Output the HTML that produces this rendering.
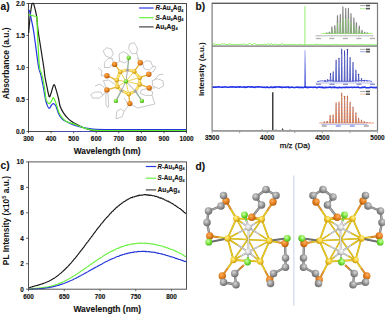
<!DOCTYPE html>
<html><head><meta charset="utf-8"><style>
html,body{margin:0;padding:0;background:#fff;width:385px;height:314px;overflow:hidden}
svg{display:block}
text{font-family:"Liberation Sans", sans-serif}
</style></head><body>
<svg width="385" height="314" viewBox="0 0 385 314">
<defs>
<radialGradient id="gAu" cx="0.4" cy="0.35" r="0.7"><stop offset="0" stop-color="#fff4a0"/><stop offset="0.5" stop-color="#f0c030"/><stop offset="1" stop-color="#b08010"/></radialGradient>
<radialGradient id="gAg" cx="0.4" cy="0.35" r="0.7"><stop offset="0" stop-color="#ffffff"/><stop offset="1" stop-color="#909090"/></radialGradient>
<radialGradient id="gP" cx="0.4" cy="0.35" r="0.7"><stop offset="0" stop-color="#ffb050"/><stop offset="0.6" stop-color="#e07818"/><stop offset="1" stop-color="#a05010"/></radialGradient>
<radialGradient id="gCl" cx="0.4" cy="0.35" r="0.7"><stop offset="0" stop-color="#c8ffa0"/><stop offset="0.6" stop-color="#60d020"/><stop offset="1" stop-color="#40a010"/></radialGradient>
<radialGradient id="dAu" cx="0.4" cy="0.35" r="0.7"><stop offset="0" stop-color="#fff6a0"/><stop offset="0.55" stop-color="#f2c828"/><stop offset="1" stop-color="#c09010"/></radialGradient>
<radialGradient id="dAg" cx="0.4" cy="0.35" r="0.7"><stop offset="0" stop-color="#ffffff"/><stop offset="0.6" stop-color="#d0d0d0"/><stop offset="1" stop-color="#909090"/></radialGradient>
<radialGradient id="dP" cx="0.4" cy="0.35" r="0.7"><stop offset="0" stop-color="#ffb060"/><stop offset="0.6" stop-color="#e07a18"/><stop offset="1" stop-color="#a85810"/></radialGradient>
<radialGradient id="dCl" cx="0.4" cy="0.35" r="0.7"><stop offset="0" stop-color="#d0ffb0"/><stop offset="0.6" stop-color="#70e030"/><stop offset="1" stop-color="#40a818"/></radialGradient>
<radialGradient id="dC" cx="0.4" cy="0.35" r="0.7"><stop offset="0" stop-color="#d8d8d8"/><stop offset="0.6" stop-color="#909090"/><stop offset="1" stop-color="#606060"/></radialGradient>
</defs>
<rect width="385" height="314" fill="#fff"/>
<text x="0.6" y="10.0" font-size="10.2" font-weight="bold" text-anchor="start" fill="#111" stroke="#111" stroke-width="0.12" >a)</text>
<polyline points="103.1,50.9 106.9,47.7 111.4,49 113.3,54.1 110.7,57.9 105.6,56 103.1,50.9" fill="none" stroke="#9c9c9c" stroke-width="0.55"/>
<polyline points="104.4,62.4 108.2,58.6 112.6,58.6 113.3,63 109.5,67.5 104.4,67.5 104.4,62.4" fill="none" stroke="#9c9c9c" stroke-width="0.55"/>
<polyline points="113.3,63 114.3,64.7" fill="none" stroke="#9c9c9c" stroke-width="0.55"/>
<polyline points="119,54.1 123.5,51.6 128,54.1 128.6,59.8 124.8,63 119.7,61.1 119,54.1" fill="none" stroke="#9c9c9c" stroke-width="0.55"/>
<polyline points="119.7,61.1 114.3,64.7" fill="none" stroke="#9c9c9c" stroke-width="0.55"/>
<polyline points="98,67.5 101.8,70.7 101.2,75.8 106.3,75.8" fill="none" stroke="#9c9c9c" stroke-width="0.55"/>
<polyline points="129.4,44 134,42.7 137.4,48 136.7,53.4 132,54 128.7,48.7 129.4,44" fill="none" stroke="#9c9c9c" stroke-width="0.55"/>
<polyline points="136.7,53.4 140,62.7" fill="none" stroke="#9c9c9c" stroke-width="0.55"/>
<polyline points="142.7,63.4 146.1,60.7 150.8,61.4 152.8,66.8 149.4,70.1 144.1,68.8 142.7,63.4" fill="none" stroke="#9c9c9c" stroke-width="0.55"/>
<polyline points="152.8,66.8 155.4,66" fill="none" stroke="#9c9c9c" stroke-width="0.55"/>
<polyline points="154.8,79.5 158.8,74.8 163.5,74.1" fill="none" stroke="#9c9c9c" stroke-width="0.55"/>
<polyline points="90.7,94.7 94.7,92 100.7,92 102.7,95.4 99.4,98.1 92.7,98.1 90.7,94.7" fill="none" stroke="#9c9c9c" stroke-width="0.55"/>
<polyline points="102.7,95.4 106.9,89.9" fill="none" stroke="#9c9c9c" stroke-width="0.55"/>
<polyline points="106,92.7 108.1,94.1 108.7,106.8 107.4,107.4 106,104.8 105.8,94.7 106,92.7" fill="none" stroke="#9c9c9c" stroke-width="0.55"/>
<polyline points="116.1,118.8 116.8,111.4 120.8,108.8 124.1,111.4 122.1,116.8 116.1,118.8" fill="none" stroke="#9c9c9c" stroke-width="0.55"/>
<polyline points="124.1,111.4 129.8,103.6" fill="none" stroke="#9c9c9c" stroke-width="0.55"/>
<polyline points="106.9,89.9 103.4,80.7 108.5,80 115.4,84.7" fill="none" stroke="#9c9c9c" stroke-width="0.55"/>
<polyline points="152.1,80.7 157.4,78.7 162.8,80.7 163.5,86 158.8,88.7 152.8,86 152.1,80.7" fill="none" stroke="#9c9c9c" stroke-width="0.55"/>
<polyline points="149.2,87.9 154.8,88" fill="none" stroke="#9c9c9c" stroke-width="0.55"/>
<polyline points="141.4,90 146.7,88.7 152.8,92 152.1,95.4 145.4,95.4 140,93.4 141.4,90" fill="none" stroke="#9c9c9c" stroke-width="0.55"/>
<polyline points="152.1,95.4 154.8,104 137.4,108.1 132,104.8" fill="none" stroke="#9c9c9c" stroke-width="0.55"/>
<polyline points="124,98 128,104" fill="none" stroke="#9c9c9c" stroke-width="0.55"/>
<polyline points="95,86 100,84 106.9,89.9" fill="none" stroke="#9c9c9c" stroke-width="0.55"/>
<polyline points="148.5,74.2 154,71 156,66.5" fill="none" stroke="#9c9c9c" stroke-width="0.55"/>
<polyline points="140.3,63 137,58" fill="none" stroke="#9c9c9c" stroke-width="0.55"/>
<line x1="125.9" y1="81.4" x2="120.3" y2="71.7" stroke="#eccc40" stroke-width="0.9"/>
<line x1="125.9" y1="81.4" x2="134.2" y2="71.4" stroke="#eccc40" stroke-width="0.9"/>
<line x1="125.9" y1="81.4" x2="139.7" y2="77.7" stroke="#eccc40" stroke-width="0.9"/>
<line x1="125.9" y1="81.4" x2="139.7" y2="84.4" stroke="#eccc40" stroke-width="0.9"/>
<line x1="125.9" y1="81.4" x2="128.8" y2="94.1" stroke="#eccc40" stroke-width="0.9"/>
<line x1="125.9" y1="81.4" x2="117.3" y2="86.8" stroke="#eccc40" stroke-width="0.9"/>
<line x1="125.9" y1="81.4" x2="116.7" y2="80.2" stroke="#eccc40" stroke-width="0.9"/>
<line x1="125.9" y1="81.4" x2="127.6" y2="69.9" stroke="#a0a0a8" stroke-width="0.9"/>
<line x1="125.9" y1="81.4" x2="121.5" y2="90.5" stroke="#a0a0a8" stroke-width="0.9"/>
<line x1="125.9" y1="81.4" x2="135.4" y2="91.1" stroke="#a0a0a8" stroke-width="0.9"/>
<polygon points="120.3,71.7 127.6,69.9 134.2,71.4 139.7,77.7 139.7,84.4 135.4,91.1 128.8,94.1 121.5,90.5 117.3,86.8 116.7,80.2" fill="none" stroke="#ecc840" stroke-width="2.8"/>
<polygon points="120.3,71.7 127.6,69.9 134.2,71.4 139.7,77.7 139.7,84.4 135.4,91.1 128.8,94.1 121.5,90.5 117.3,86.8 116.7,80.2" fill="none" stroke="#fff080" stroke-width="1.2"/>
<line x1="114.6" y1="64.4" x2="120.3" y2="71.7" stroke="#e8b030" stroke-width="1.3"/>
<line x1="140.3" y1="62.8" x2="134.2" y2="71.4" stroke="#e8b030" stroke-width="1.3"/>
<line x1="106.9" y1="75.7" x2="116.7" y2="80.2" stroke="#e8b030" stroke-width="1.3"/>
<line x1="148.8" y1="74.3" x2="139.7" y2="77.7" stroke="#e8b030" stroke-width="1.3"/>
<line x1="106.9" y1="89.9" x2="117.3" y2="86.8" stroke="#e8b030" stroke-width="1.3"/>
<line x1="149.2" y1="87.9" x2="139.7" y2="84.4" stroke="#e8b030" stroke-width="1.3"/>
<line x1="129.8" y1="103.6" x2="128.8" y2="94.1" stroke="#e8b030" stroke-width="1.3"/>
<line x1="128.7" y1="57.8" x2="127.6" y2="69.9" stroke="#8aa890" stroke-width="1.2"/>
<line x1="115.9" y1="100.9" x2="121.5" y2="90.5" stroke="#8aa890" stroke-width="1.2"/>
<line x1="141.9" y1="100.9" x2="135.4" y2="91.1" stroke="#8aa890" stroke-width="1.2"/>
<path d="M125.39999999999999,71.2 L127.6,67.9 L129.79999999999998,71.2 Z" fill="#9898a8" stroke="#c8c8d8" stroke-width="0.4"/>
<path d="M119.3,91.8 L121.5,88.5 L123.7,91.8 Z" fill="#9898a8" stroke="#c8c8d8" stroke-width="0.4"/>
<path d="M133.20000000000002,92.39999999999999 L135.4,89.1 L137.6,92.39999999999999 Z" fill="#9898a8" stroke="#c8c8d8" stroke-width="0.4"/>
<circle cx="120.3" cy="71.7" r="2.3" fill="url(#gAu)"/>
<circle cx="134.2" cy="71.4" r="2.3" fill="url(#gAu)"/>
<circle cx="139.7" cy="77.7" r="2.3" fill="url(#gAu)"/>
<circle cx="139.7" cy="84.4" r="2.3" fill="url(#gAu)"/>
<circle cx="128.8" cy="94.1" r="2.3" fill="url(#gAu)"/>
<circle cx="117.3" cy="86.8" r="2.3" fill="url(#gAu)"/>
<circle cx="116.7" cy="80.2" r="2.3" fill="url(#gAu)"/>
<circle cx="114.6" cy="64.4" r="2.7" fill="url(#gP)"/>
<circle cx="140.3" cy="62.8" r="2.7" fill="url(#gP)"/>
<circle cx="106.9" cy="75.7" r="2.7" fill="url(#gP)"/>
<circle cx="148.8" cy="74.3" r="2.7" fill="url(#gP)"/>
<circle cx="106.9" cy="89.9" r="2.7" fill="url(#gP)"/>
<circle cx="149.2" cy="87.9" r="2.7" fill="url(#gP)"/>
<circle cx="129.8" cy="103.6" r="2.7" fill="url(#gP)"/>
<circle cx="128.7" cy="57.8" r="2.2" fill="url(#gCl)"/>
<circle cx="115.9" cy="100.9" r="2.2" fill="url(#gCl)"/>
<circle cx="141.9" cy="100.9" r="2.2" fill="url(#gCl)"/>
<circle cx="125.9" cy="81.4" r="2.2" fill="url(#gCl)"/>
<rect x="28.5" y="3.5" width="158.0" height="128.0" fill="none" stroke="#4a4a4a" stroke-width="1"/>
<line x1="53" y1="131.5" x2="186" y2="131.5" stroke="#4050e8" stroke-width="0.8" opacity="0.75"/>
<path d="M28.60,33.00 C28.90,29.83 29.87,18.72 30.40,14.00 C30.93,9.28 31.40,6.47 31.80,4.70 C32.20,2.93 32.45,3.40 32.80,3.40 C33.15,3.40 33.28,2.65 33.90,4.70 C34.52,6.75 35.88,12.15 36.50,15.70 C37.12,19.25 37.28,23.12 37.60,26.00 C37.92,28.88 37.40,26.33 38.40,33.00 C39.40,39.67 42.52,58.75 43.60,66.00 C44.68,73.25 44.33,73.00 44.90,76.50 C45.47,80.00 46.30,83.68 47.00,87.00 C47.70,90.32 48.48,95.18 49.10,96.40 C49.72,97.62 49.92,96.22 50.70,94.30 C51.48,92.38 52.93,85.77 53.80,84.90 C54.67,84.03 55.10,86.75 55.90,89.10 C56.70,91.45 57.90,96.13 58.60,99.00 C59.30,101.87 59.32,104.03 60.10,106.30 C60.88,108.57 62.07,110.67 63.30,112.60 C64.53,114.53 66.10,116.40 67.50,117.90 C68.90,119.40 70.20,120.53 71.70,121.60 C73.20,122.67 74.62,123.32 76.50,124.30 C78.38,125.28 80.83,126.62 83.00,127.50 C85.17,128.38 87.33,129.08 89.50,129.60 C91.67,130.12 90.92,130.37 96.00,130.60 C101.08,130.83 105.00,130.93 120.00,131.00 C135.00,131.07 175.00,131.00 186.00,131.00" fill="none" stroke="#1a1a1a" stroke-width="1.2"/>
<path d="M28.60,10.00 C28.78,10.25 29.27,10.02 29.70,11.50 C30.13,12.98 30.50,15.32 31.20,18.90 C31.90,22.48 32.70,25.15 33.90,33.00 C35.10,40.85 37.27,59.10 38.40,66.00 C39.53,72.90 39.88,70.90 40.70,74.40 C41.52,77.90 42.52,82.90 43.30,87.00 C44.08,91.10 44.87,96.30 45.40,99.00 C45.93,101.70 45.88,101.63 46.50,103.20 C47.12,104.77 48.23,108.13 49.10,108.40 C49.97,108.67 50.92,105.58 51.70,104.80 C52.48,104.02 53.08,103.45 53.80,103.70 C54.52,103.95 55.20,104.63 56.00,106.30 C56.80,107.97 57.57,111.58 58.60,113.70 C59.63,115.82 60.72,117.60 62.20,119.00 C63.68,120.40 65.22,120.97 67.50,122.10 C69.78,123.23 73.32,124.90 75.90,125.80 C78.48,126.70 80.73,127.03 83.00,127.50 C85.27,127.97 87.33,128.30 89.50,128.60 C91.67,128.90 90.92,129.15 96.00,129.30 C101.08,129.45 105.00,129.47 120.00,129.50 C135.00,129.53 175.00,129.50 186.00,129.50" fill="none" stroke="#2436e0" stroke-width="1.2"/>
<path d="M28.60,14.70 C29.25,14.85 31.18,15.25 32.50,15.60 C33.82,15.95 35.75,16.43 36.50,16.80 C37.25,17.17 36.83,15.10 37.00,17.80 C37.17,20.50 37.10,24.97 37.50,33.00 C37.90,41.03 38.68,59.10 39.40,66.00 C40.12,72.90 40.97,70.90 41.80,74.40 C42.63,77.90 43.70,82.90 44.40,87.00 C45.10,91.10 45.48,96.48 46.00,99.00 C46.52,101.52 46.93,101.32 47.50,102.10 C48.07,102.88 48.70,103.95 49.40,103.70 C50.10,103.45 51.02,101.58 51.70,100.60 C52.38,99.62 52.78,97.37 53.50,97.80 C54.22,98.23 55.15,100.90 56.00,103.20 C56.85,105.50 57.73,109.42 58.60,111.60 C59.47,113.78 59.90,114.63 61.20,116.30 C62.50,117.97 63.95,120.20 66.40,121.60 C68.85,123.00 73.13,123.70 75.90,124.70 C78.67,125.70 80.73,126.82 83.00,127.60 C85.27,128.38 87.33,128.95 89.50,129.40 C91.67,129.85 90.92,130.12 96.00,130.30 C101.08,130.48 105.00,130.47 120.00,130.50 C135.00,130.53 175.00,130.50 186.00,130.50" fill="none" stroke="#5ef02a" stroke-width="1.2"/>
<line x1="26.5" y1="131.50" x2="28.5" y2="131.50" stroke="#333" stroke-width="0.8"/>
<text x="25.0" y="133.8" font-size="6.5" font-weight="bold" text-anchor="end" fill="#111" stroke="#111" stroke-width="0.12" >0.0</text>
<line x1="26.5" y1="99.50" x2="28.5" y2="99.50" stroke="#333" stroke-width="0.8"/>
<text x="25.0" y="101.8" font-size="6.5" font-weight="bold" text-anchor="end" fill="#111" stroke="#111" stroke-width="0.12" >0.5</text>
<line x1="26.5" y1="67.50" x2="28.5" y2="67.50" stroke="#333" stroke-width="0.8"/>
<text x="25.0" y="69.8" font-size="6.5" font-weight="bold" text-anchor="end" fill="#111" stroke="#111" stroke-width="0.12" >1.0</text>
<line x1="26.5" y1="35.50" x2="28.5" y2="35.50" stroke="#333" stroke-width="0.8"/>
<text x="25.0" y="37.8" font-size="6.5" font-weight="bold" text-anchor="end" fill="#111" stroke="#111" stroke-width="0.12" >1.5</text>
<line x1="26.5" y1="3.50" x2="28.5" y2="3.50" stroke="#333" stroke-width="0.8"/>
<text x="25.0" y="5.8" font-size="6.5" font-weight="bold" text-anchor="end" fill="#111" stroke="#111" stroke-width="0.12" >2.0</text>
<line x1="28.50" y1="131.5" x2="28.50" y2="133.3" stroke="#333" stroke-width="0.8"/>
<text x="28.5" y="140.6" font-size="6.4" font-weight="bold" text-anchor="middle" fill="#111" stroke="#111" stroke-width="0.12" >300</text>
<line x1="51.07" y1="131.5" x2="51.07" y2="133.3" stroke="#333" stroke-width="0.8"/>
<text x="51.07" y="140.6" font-size="6.4" font-weight="bold" text-anchor="middle" fill="#111" stroke="#111" stroke-width="0.12" >400</text>
<line x1="73.64" y1="131.5" x2="73.64" y2="133.3" stroke="#333" stroke-width="0.8"/>
<text x="73.64" y="140.6" font-size="6.4" font-weight="bold" text-anchor="middle" fill="#111" stroke="#111" stroke-width="0.12" >500</text>
<line x1="96.21" y1="131.5" x2="96.21" y2="133.3" stroke="#333" stroke-width="0.8"/>
<text x="96.21" y="140.6" font-size="6.4" font-weight="bold" text-anchor="middle" fill="#111" stroke="#111" stroke-width="0.12" >600</text>
<line x1="118.79" y1="131.5" x2="118.79" y2="133.3" stroke="#333" stroke-width="0.8"/>
<text x="118.79" y="140.6" font-size="6.4" font-weight="bold" text-anchor="middle" fill="#111" stroke="#111" stroke-width="0.12" >700</text>
<line x1="141.36" y1="131.5" x2="141.36" y2="133.3" stroke="#333" stroke-width="0.8"/>
<text x="141.36" y="140.6" font-size="6.4" font-weight="bold" text-anchor="middle" fill="#111" stroke="#111" stroke-width="0.12" >800</text>
<line x1="163.93" y1="131.5" x2="163.93" y2="133.3" stroke="#333" stroke-width="0.8"/>
<text x="163.93" y="140.6" font-size="6.4" font-weight="bold" text-anchor="middle" fill="#111" stroke="#111" stroke-width="0.12" >900</text>
<line x1="186.50" y1="131.5" x2="186.50" y2="133.3" stroke="#333" stroke-width="0.8"/>
<text x="186.5" y="140.6" font-size="6.4" font-weight="bold" text-anchor="middle" fill="#111" stroke="#111" stroke-width="0.12" >1000</text>
<text x="107.2" y="153.8" font-size="8.35" font-weight="bold" text-anchor="middle" fill="#111" stroke="#111" stroke-width="0.12" >Wavelength (nm)</text>
<text transform="translate(9.1,63.3) rotate(-90)" font-size="8.5" font-weight="bold" text-anchor="middle" fill="#111">Absorbance (a.u.)</text>
<line x1="139.1" y1="8.0" x2="153.6" y2="8.0" stroke="#2a3ae0" stroke-width="1.2"/>
<text x="155.5" y="10.2" font-size="6.9" font-weight="bold" fill="#111" stroke="#111" stroke-width="0.1" textLength="28" lengthAdjust="spacingAndGlyphs"><tspan font-style="italic">R</tspan>-Au<tspan font-size="4.14" dy="1.3">9</tspan><tspan dy="-1.3">Ag</tspan><tspan font-size="4.14" dy="1.3">4</tspan></text>
<line x1="139.1" y1="17.7" x2="153.6" y2="17.7" stroke="#6af040" stroke-width="1.2"/>
<text x="155.5" y="19.9" font-size="6.9" font-weight="bold" fill="#111" stroke="#111" stroke-width="0.1" textLength="28" lengthAdjust="spacingAndGlyphs"><tspan font-style="italic">S</tspan>-Au<tspan font-size="4.14" dy="1.3">9</tspan><tspan dy="-1.3">Ag</tspan><tspan font-size="4.14" dy="1.3">4</tspan></text>
<line x1="139.1" y1="26.9" x2="153.6" y2="26.9" stroke="#444" stroke-width="1.2"/>
<text x="155.5" y="29.099999999999998" font-size="6.9" font-weight="bold" fill="#111" stroke="#111" stroke-width="0.1" textLength="22.1" lengthAdjust="spacingAndGlyphs">Au<tspan font-size="4.14" dy="1.3">9</tspan><tspan dy="-1.3">Ag</tspan><tspan font-size="4.14" dy="1.3">4</tspan></text>
<text x="195.6" y="10.1" font-size="10.2" font-weight="bold" text-anchor="start" fill="#111" stroke="#111" stroke-width="0.12" >b)</text>
<polyline points="212.1,44.83 213.1,44.74 214.1,43.36 215.1,44.99 216.1,44.82 217.1,44.30 218.1,44.41 219.1,44.55 220.1,44.56 221.1,44.63 222.1,43.33 223.1,44.47 224.1,43.59 225.1,44.39 226.1,44.50 227.1,44.50 228.1,44.72 229.1,44.69 230.1,43.18 231.1,44.90 232.1,44.32 233.1,44.56 234.1,44.64 235.1,44.75 236.1,44.59 237.1,44.52 238.1,44.40 239.1,44.53 240.1,44.40 241.1,44.37 242.1,44.50 243.1,44.42 244.1,43.60 245.1,44.40 246.1,44.94 247.1,44.71 248.1,44.79 249.1,43.19 250.1,43.37 251.1,44.50 252.1,44.38 253.1,44.65 254.1,43.58 255.1,43.38 256.1,44.86 257.1,44.57 258.1,44.97 259.1,44.78 260.1,44.37 261.1,44.68 262.1,44.55 263.1,44.61 264.1,44.34 265.1,44.70 266.1,44.83 267.1,44.32 268.1,43.42 269.1,44.71 270.1,44.99 271.1,43.36 272.1,44.56 273.1,44.52 274.1,44.51 275.1,43.78 276.1,44.53 277.1,44.82 278.1,44.59 279.1,44.75 280.1,44.74 281.1,44.79 282.1,43.26 283.1,44.60 284.1,44.78 285.1,44.44 286.1,44.87 287.1,44.51 288.1,44.77 289.1,44.42 290.1,44.40 291.1,44.76 292.1,44.38 293.1,44.84 294.1,44.63 295.1,44.44 296.1,44.41 297.1,44.87 298.1,44.80 299.1,44.43 300.1,44.55 301.1,44.44 302.1,44.76 303.1,44.91 304.1,44.80 305.1,44.44 306.1,44.81 307.1,44.76 308.1,44.71 309.1,44.71 310.1,44.71 311.1,44.36 312.1,44.89 313.1,45.00 314.1,44.34 315.1,44.38 316.1,44.31 317.1,44.70 318.1,44.33 319.1,44.35 320.1,44.84 321.1,44.48 322.1,44.41 323.1,44.54 324.1,44.64 325.1,44.80 326.1,44.76 327.1,44.84 328.1,44.95 329.1,44.59 330.1,44.80 331.1,44.43 332.1,44.97 333.1,44.37 334.1,44.51 335.1,44.35 336.1,44.37 337.1,44.37 338.1,44.60 339.1,44.99 340.1,44.48 341.1,44.88 342.1,44.79 343.1,44.54 344.1,44.63 345.1,44.71 346.1,44.34 347.1,44.57 348.1,44.76 349.1,44.82 350.1,44.40 351.1,44.67 352.1,44.45 353.1,44.75 354.1,44.86 355.1,44.63 356.1,44.43 357.1,44.88 358.1,44.45 359.1,44.35 360.1,44.44 361.1,44.42 362.1,44.99 363.1,44.56 364.1,44.40 365.1,44.97 366.1,44.81 367.1,44.81 368.1,44.63 369.1,44.70 370.1,44.67 371.1,44.46 372.1,45.00 373.1,44.96 374.1,44.91 375.1,44.91 376.1,44.95 377.1,44.32" fill="none" stroke="#7ef050" stroke-width="0.9"/>
<line x1="304.9" y1="6" x2="304.9" y2="45" stroke="#88ec60" stroke-width="0.9"/>
<line x1="212.1" y1="46.1" x2="377.5" y2="46.1" stroke="#555" stroke-width="1"/>
<polyline points="212.1,86.70 213.1,87.24 214.1,86.96 215.1,87.09 216.1,87.09 217.1,87.07 218.1,86.87 219.1,86.91 220.1,87.08 221.1,87.20 222.1,87.11 223.1,87.25 224.1,86.95 225.1,86.85 226.1,87.08 227.1,87.30 228.1,87.23 229.1,87.10 230.1,86.94 231.1,86.82 232.1,87.11 233.1,86.82 234.1,86.94 235.1,87.08 236.1,87.13 237.1,87.04 238.1,86.90 239.1,87.10 240.1,86.92 241.1,87.08 242.1,87.24 243.1,87.04 244.1,86.93 245.1,87.37 246.1,87.13 247.1,87.13 248.1,86.82 249.1,86.78 250.1,87.18 251.1,86.81 252.1,86.89 253.1,87.27 254.1,87.13 255.1,87.37 256.1,86.89 257.1,87.00 258.1,86.85 259.1,86.92 260.1,87.01 261.1,86.96 262.1,87.09 263.1,87.41 264.1,87.08 265.1,87.49 266.1,87.40 267.1,86.96 268.1,87.47 269.1,87.44 270.1,87.44 271.1,86.90 272.1,87.39 273.1,87.51 274.1,86.94 275.1,87.44 276.1,86.94 277.1,87.06 278.1,86.95 279.1,86.88 280.1,87.14 281.1,86.99 282.1,87.53 283.1,87.02 284.1,87.20 285.1,87.06 286.1,87.49 287.1,87.05 288.1,86.92 289.1,87.54 290.1,87.36 291.1,87.19 292.1,87.01 293.1,87.43 294.1,87.47 295.1,87.43 296.1,87.17 297.1,87.08 298.1,87.34 299.1,87.36 300.1,87.34 301.1,87.38 302.1,87.33 303.1,87.57 304.1,87.28 305.1,86.96 306.1,87.35 307.1,87.12 308.1,87.54 309.1,87.17 310.1,87.13 311.1,87.19 312.1,87.30 313.1,87.33 314.1,87.22 315.1,87.05 316.1,87.57 317.1,87.61 318.1,87.16 319.1,87.05 320.1,87.33 321.1,87.39 322.1,87.20 323.1,87.57 324.1,87.52 325.1,87.57 326.1,87.30 327.1,87.50 328.1,87.56 329.1,87.24 330.1,87.06 331.1,87.53 332.1,87.24 333.1,87.45 334.1,87.15 335.1,87.34 336.1,87.56 337.1,87.60 338.1,87.74 339.1,87.43 340.1,87.50 341.1,87.65 342.1,87.52 343.1,87.55 344.1,87.24 345.1,87.68 346.1,87.09 347.1,87.46 348.1,87.38 349.1,87.47 350.1,87.22 351.1,87.23 352.1,87.42 353.1,87.48 354.1,87.31 355.1,87.22 356.1,87.54 357.1,87.31 358.1,87.16 359.1,87.51 360.1,87.68 361.1,87.68 362.1,87.34 363.1,87.38 364.1,87.18 365.1,87.26 366.1,87.69 367.1,87.73 368.1,87.69 369.1,87.74 370.1,87.38 371.1,87.28 372.1,87.25 373.1,87.71 374.1,87.28 375.1,87.67 376.1,87.60 377.1,87.39" fill="none" stroke="#2233e8" stroke-width="1.6"/>
<path d="M304.4,87.5 L304.8,50 L305.2,50 L305.8,87.5 Z" fill="#2838d0"/>
<line x1="272.8" y1="92.3" x2="272.8" y2="130.5" stroke="#111" stroke-width="1.2"/>
<path d="M281.6,130.5 L282.6,127.8 L283.6,130.5 Z" fill="#333"/>
<line x1="262" y1="130" x2="262" y2="129" stroke="#666" stroke-width="0.6"/>
<line x1="276" y1="130" x2="276" y2="129" stroke="#666" stroke-width="0.6"/>
<line x1="290" y1="130" x2="290" y2="129" stroke="#666" stroke-width="0.6"/>
<line x1="321.8" y1="33.4" x2="372.4" y2="33.4" stroke="#90f060" stroke-width="0.9"/>
<path d="M325.80,33.4 L326.24,32.70 Q326.80,31.70 327.36,32.70 L327.80,33.4 Z" fill="#858585"/>
<path d="M328.40,33.4 L328.84,31.90 Q329.40,30.90 329.96,31.90 L330.40,33.4 Z" fill="#858585"/>
<path d="M330.90,33.4 L331.34,26.80 Q331.90,25.80 332.46,26.80 L332.90,33.4 Z" fill="#858585"/>
<path d="M333.80,33.4 L334.24,25.60 Q334.80,24.60 335.36,25.60 L335.80,33.4 Z" fill="#858585"/>
<path d="M336.50,33.4 L336.94,15.60 Q337.50,14.60 338.06,15.60 L338.50,33.4 Z" fill="#858585"/>
<path d="M339.30,33.4 L339.74,14.30 Q340.30,13.30 340.86,14.30 L341.30,33.4 Z" fill="#858585"/>
<path d="M341.90,33.4 L342.34,6.70 Q342.90,5.70 343.46,6.70 L343.90,33.4 Z" fill="#858585"/>
<path d="M344.70,33.4 L345.14,8.20 Q345.70,7.20 346.26,8.20 L346.70,33.4 Z" fill="#858585"/>
<path d="M347.40,33.4 L347.84,8.20 Q348.40,7.20 348.96,8.20 L349.40,33.4 Z" fill="#858585"/>
<path d="M350.00,33.4 L350.44,13.40 Q351.00,12.40 351.56,13.40 L352.00,33.4 Z" fill="#858585"/>
<path d="M352.90,33.4 L353.34,17.80 Q353.90,16.80 354.46,17.80 L354.90,33.4 Z" fill="#858585"/>
<path d="M355.40,33.4 L355.84,22.60 Q356.40,21.60 356.96,22.60 L357.40,33.4 Z" fill="#858585"/>
<path d="M358.30,33.4 L358.74,25.90 Q359.30,24.90 359.86,25.90 L360.30,33.4 Z" fill="#858585"/>
<path d="M361.00,33.4 L361.44,30.20 Q362.00,29.20 362.56,30.20 L363.00,33.4 Z" fill="#858585"/>
<path d="M363.80,33.4 L364.24,31.90 Q364.80,30.90 365.36,31.90 L365.80,33.4 Z" fill="#858585"/>
<path d="M366.40,33.4 L366.84,32.70 Q367.40,31.70 367.96,32.70 L368.40,33.4 Z" fill="#858585"/>
<line x1="326.80" y1="33.4" x2="326.80" y2="33.42" stroke="#88e860" stroke-width="0.6"/>
<line x1="329.40" y1="33.4" x2="329.40" y2="32.94" stroke="#88e860" stroke-width="0.6"/>
<line x1="331.90" y1="33.4" x2="331.90" y2="29.88" stroke="#88e860" stroke-width="0.6"/>
<line x1="334.80" y1="33.4" x2="334.80" y2="29.16" stroke="#88e860" stroke-width="0.6"/>
<line x1="337.50" y1="33.4" x2="337.50" y2="23.16" stroke="#88e860" stroke-width="0.6"/>
<line x1="340.30" y1="33.4" x2="340.30" y2="22.38" stroke="#88e860" stroke-width="0.6"/>
<line x1="342.90" y1="33.4" x2="342.90" y2="17.82" stroke="#88e860" stroke-width="0.6"/>
<line x1="345.70" y1="33.4" x2="345.70" y2="18.72" stroke="#88e860" stroke-width="0.6"/>
<line x1="348.40" y1="33.4" x2="348.40" y2="18.72" stroke="#88e860" stroke-width="0.6"/>
<line x1="351.00" y1="33.4" x2="351.00" y2="21.84" stroke="#88e860" stroke-width="0.6"/>
<line x1="353.90" y1="33.4" x2="353.90" y2="24.48" stroke="#88e860" stroke-width="0.6"/>
<line x1="356.40" y1="33.4" x2="356.40" y2="27.36" stroke="#88e860" stroke-width="0.6"/>
<line x1="359.30" y1="33.4" x2="359.30" y2="29.34" stroke="#88e860" stroke-width="0.6"/>
<line x1="362.00" y1="33.4" x2="362.00" y2="31.92" stroke="#88e860" stroke-width="0.6"/>
<line x1="364.80" y1="33.4" x2="364.80" y2="32.94" stroke="#88e860" stroke-width="0.6"/>
<line x1="367.40" y1="33.4" x2="367.40" y2="33.42" stroke="#88e860" stroke-width="0.6"/>
<line x1="315.4" y1="35.8" x2="373.4" y2="35.8" stroke="#888" stroke-width="0.6"/>
<rect x="315.90" y="37.85" width="5.0" height="1.3" fill="#b0b0b0"/>
<line x1="318.40" y1="35.8" x2="318.40" y2="36.699999999999996" stroke="#888" stroke-width="0.4"/>
<rect x="329.40" y="37.85" width="5.0" height="1.3" fill="#b0b0b0"/>
<line x1="331.90" y1="35.8" x2="331.90" y2="36.699999999999996" stroke="#888" stroke-width="0.4"/>
<rect x="342.90" y="37.85" width="5.0" height="1.3" fill="#b0b0b0"/>
<line x1="345.40" y1="35.8" x2="345.40" y2="36.699999999999996" stroke="#888" stroke-width="0.4"/>
<rect x="356.40" y="37.85" width="5.0" height="1.3" fill="#b0b0b0"/>
<line x1="358.90" y1="35.8" x2="358.90" y2="36.699999999999996" stroke="#888" stroke-width="0.4"/>
<rect x="369.90" y="37.85" width="5.0" height="1.3" fill="#b0b0b0"/>
<line x1="372.40" y1="35.8" x2="372.40" y2="36.699999999999996" stroke="#888" stroke-width="0.4"/>
<line x1="360" y1="5.6" x2="365.2" y2="5.6" stroke="#777" stroke-width="0.6"/>
<line x1="360" y1="8.6" x2="365.2" y2="8.6" stroke="#80f050" stroke-width="0.6"/>
<rect x="365.8" y="4.8" width="4.2" height="1.6" fill="#555"/>
<rect x="365.8" y="7.8" width="4.2" height="1.6" fill="#555"/>
<polyline points="317,81.5 322,80.8 326,81.3 330,80.5 334,81.2 350,81.3 360,80.6 366,80.4 372,81.4" fill="none" stroke="#4050e0" stroke-width="0.8"/>
<path d="M324.30,81.5 L324.65,80.20 Q325.10,79.20 325.55,80.20 L325.90,81.5 Z" fill="#2830a8"/>
<path d="M326.90,81.5 L327.25,79.40 Q327.70,78.40 328.15,79.40 L328.50,81.5 Z" fill="#2830a8"/>
<path d="M329.70,81.5 L330.05,73.50 Q330.50,72.50 330.95,73.50 L331.30,81.5 Z" fill="#2830a8"/>
<path d="M332.40,81.5 L332.75,71.80 Q333.20,70.80 333.65,71.80 L334.00,81.5 Z" fill="#2830a8"/>
<path d="M335.30,81.5 L335.65,60.00 Q336.10,59.00 336.55,60.00 L336.90,81.5 Z" fill="#2830a8"/>
<path d="M338.20,81.5 L338.55,58.30 Q339.00,57.30 339.45,58.30 L339.80,81.5 Z" fill="#2830a8"/>
<path d="M340.90,81.5 L341.25,49.00 Q341.70,48.00 342.15,49.00 L342.50,81.5 Z" fill="#2830a8"/>
<path d="M343.80,81.5 L344.15,50.70 Q344.60,49.70 345.05,50.70 L345.40,81.5 Z" fill="#2830a8"/>
<path d="M346.60,81.5 L346.95,49.30 Q347.40,48.30 347.85,49.30 L348.20,81.5 Z" fill="#2830a8"/>
<path d="M349.30,81.5 L349.65,57.40 Q350.10,56.40 350.55,57.40 L350.90,81.5 Z" fill="#2830a8"/>
<path d="M352.20,81.5 L352.55,62.50 Q353.00,61.50 353.45,62.50 L353.80,81.5 Z" fill="#2830a8"/>
<path d="M355.10,81.5 L355.45,70.10 Q355.90,69.10 356.35,70.10 L356.70,81.5 Z" fill="#2830a8"/>
<path d="M357.80,81.5 L358.15,74.30 Q358.60,73.30 359.05,74.30 L359.40,81.5 Z" fill="#2830a8"/>
<path d="M360.70,81.5 L361.05,78.50 Q361.50,77.50 361.95,78.50 L362.30,81.5 Z" fill="#2830a8"/>
<path d="M363.50,81.5 L363.85,80.20 Q364.30,79.20 364.75,80.20 L365.10,81.5 Z" fill="#2830a8"/>
<path d="M366.20,81.5 L366.55,81.10 Q367.00,80.10 367.45,81.10 L367.80,81.5 Z" fill="#2830a8"/>
<line x1="325.10" y1="81.5" x2="325.10" y2="80.68" stroke="#a8b0f4" stroke-width="0.45"/>
<line x1="327.70" y1="81.5" x2="327.70" y2="80.00" stroke="#a8b0f4" stroke-width="0.45"/>
<line x1="330.50" y1="81.5" x2="330.50" y2="74.99" stroke="#a8b0f4" stroke-width="0.45"/>
<line x1="333.20" y1="81.5" x2="333.20" y2="73.55" stroke="#a8b0f4" stroke-width="0.45"/>
<line x1="336.10" y1="81.5" x2="336.10" y2="63.51" stroke="#a8b0f4" stroke-width="0.45"/>
<line x1="339.00" y1="81.5" x2="339.00" y2="62.07" stroke="#a8b0f4" stroke-width="0.45"/>
<line x1="341.70" y1="81.5" x2="341.70" y2="54.16" stroke="#a8b0f4" stroke-width="0.45"/>
<line x1="344.60" y1="81.5" x2="344.60" y2="55.61" stroke="#a8b0f4" stroke-width="0.45"/>
<line x1="347.40" y1="81.5" x2="347.40" y2="54.42" stroke="#a8b0f4" stroke-width="0.45"/>
<line x1="350.10" y1="81.5" x2="350.10" y2="61.30" stroke="#a8b0f4" stroke-width="0.45"/>
<line x1="353.00" y1="81.5" x2="353.00" y2="65.64" stroke="#a8b0f4" stroke-width="0.45"/>
<line x1="355.90" y1="81.5" x2="355.90" y2="72.10" stroke="#a8b0f4" stroke-width="0.45"/>
<line x1="358.60" y1="81.5" x2="358.60" y2="75.67" stroke="#a8b0f4" stroke-width="0.45"/>
<line x1="361.50" y1="81.5" x2="361.50" y2="79.24" stroke="#a8b0f4" stroke-width="0.45"/>
<line x1="364.30" y1="81.5" x2="364.30" y2="80.68" stroke="#a8b0f4" stroke-width="0.45"/>
<line x1="367.00" y1="81.5" x2="367.00" y2="81.45" stroke="#a8b0f4" stroke-width="0.45"/>
<line x1="315.5" y1="83.0" x2="373.5" y2="83.0" stroke="#8890d0" stroke-width="0.6"/>
<rect x="316.00" y="83.65" width="5.0" height="1.3" fill="#8890c8"/>
<line x1="318.50" y1="83.0" x2="318.50" y2="83.9" stroke="#8890d0" stroke-width="0.4"/>
<rect x="329.50" y="83.65" width="5.0" height="1.3" fill="#8890c8"/>
<line x1="332.00" y1="83.0" x2="332.00" y2="83.9" stroke="#8890d0" stroke-width="0.4"/>
<rect x="343.00" y="83.65" width="5.0" height="1.3" fill="#8890c8"/>
<line x1="345.50" y1="83.0" x2="345.50" y2="83.9" stroke="#8890d0" stroke-width="0.4"/>
<rect x="356.50" y="83.65" width="5.0" height="1.3" fill="#8890c8"/>
<line x1="359.00" y1="83.0" x2="359.00" y2="83.9" stroke="#8890d0" stroke-width="0.4"/>
<rect x="370.00" y="83.65" width="5.0" height="1.3" fill="#8890c8"/>
<line x1="372.50" y1="83.0" x2="372.50" y2="83.9" stroke="#8890d0" stroke-width="0.4"/>
<line x1="360" y1="49.4" x2="365.2" y2="49.4" stroke="#777" stroke-width="0.6"/>
<line x1="360" y1="51.699999999999996" x2="365.2" y2="51.699999999999996" stroke="#6070e0" stroke-width="0.6"/>
<rect x="365.8" y="48.6" width="4.2" height="1.6" fill="#555"/>
<rect x="365.8" y="50.9" width="4.2" height="1.6" fill="#555"/>
<line x1="319.2" y1="123.0" x2="374.1" y2="123.0" stroke="#f4c0a8" stroke-width="1.4"/>
<path d="M323.45,123.0 L323.82,121.80 Q324.30,120.80 324.78,121.80 L325.15,123.0 Z" fill="#c45a2a"/>
<path d="M326.35,123.0 L326.72,121.20 Q327.20,120.20 327.68,121.20 L328.05,123.0 Z" fill="#c45a2a"/>
<path d="M329.35,123.0 L329.72,115.40 Q330.20,114.40 330.68,115.40 L331.05,123.0 Z" fill="#c45a2a"/>
<path d="M332.25,123.0 L332.62,114.80 Q333.10,113.80 333.58,114.80 L333.95,123.0 Z" fill="#c45a2a"/>
<path d="M335.25,123.0 L335.62,102.70 Q336.10,101.70 336.58,102.70 L336.95,123.0 Z" fill="#c45a2a"/>
<path d="M338.15,123.0 L338.52,102.10 Q339.00,101.10 339.48,102.10 L339.85,123.0 Z" fill="#c45a2a"/>
<path d="M340.85,123.0 L341.22,93.10 Q341.70,92.10 342.18,93.10 L342.55,123.0 Z" fill="#c45a2a"/>
<path d="M343.75,123.0 L344.12,96.30 Q344.60,95.30 345.08,96.30 L345.45,123.0 Z" fill="#c45a2a"/>
<path d="M346.55,123.0 L346.92,96.00 Q347.40,95.00 347.88,96.00 L348.25,123.0 Z" fill="#c45a2a"/>
<path d="M349.25,123.0 L349.62,102.00 Q350.10,101.00 350.58,102.00 L350.95,123.0 Z" fill="#c45a2a"/>
<path d="M352.15,123.0 L352.52,107.10 Q353.00,106.10 353.48,107.10 L353.85,123.0 Z" fill="#c45a2a"/>
<path d="M355.05,123.0 L355.42,112.80 Q355.90,111.80 356.38,112.80 L356.75,123.0 Z" fill="#c45a2a"/>
<path d="M357.75,123.0 L358.12,117.90 Q358.60,116.90 359.08,117.90 L359.45,123.0 Z" fill="#c45a2a"/>
<path d="M360.65,123.0 L361.02,120.10 Q361.50,119.10 361.98,120.10 L362.35,123.0 Z" fill="#c45a2a"/>
<path d="M363.45,123.0 L363.82,121.60 Q364.30,120.60 364.78,121.60 L365.15,123.0 Z" fill="#c45a2a"/>
<path d="M366.15,123.0 L366.52,122.40 Q367.00,121.40 367.48,122.40 L367.85,123.0 Z" fill="#c45a2a"/>
<path d="M369.05,123.0 L369.42,122.90 Q369.90,121.90 370.38,122.90 L370.75,123.0 Z" fill="#c45a2a"/>
<line x1="324.30" y1="123.0" x2="324.30" y2="122.18" stroke="#f8b890" stroke-width="0.5"/>
<line x1="327.20" y1="123.0" x2="327.20" y2="121.64" stroke="#f8b890" stroke-width="0.5"/>
<line x1="330.20" y1="123.0" x2="330.20" y2="116.42" stroke="#f8b890" stroke-width="0.5"/>
<line x1="333.10" y1="123.0" x2="333.10" y2="115.88" stroke="#f8b890" stroke-width="0.5"/>
<line x1="336.10" y1="123.0" x2="336.10" y2="104.99" stroke="#f8b890" stroke-width="0.5"/>
<line x1="339.00" y1="123.0" x2="339.00" y2="104.45" stroke="#f8b890" stroke-width="0.5"/>
<line x1="341.70" y1="123.0" x2="341.70" y2="96.35" stroke="#f8b890" stroke-width="0.5"/>
<line x1="344.60" y1="123.0" x2="344.60" y2="99.23" stroke="#f8b890" stroke-width="0.5"/>
<line x1="347.40" y1="123.0" x2="347.40" y2="98.96" stroke="#f8b890" stroke-width="0.5"/>
<line x1="350.10" y1="123.0" x2="350.10" y2="104.36" stroke="#f8b890" stroke-width="0.5"/>
<line x1="353.00" y1="123.0" x2="353.00" y2="108.95" stroke="#f8b890" stroke-width="0.5"/>
<line x1="355.90" y1="123.0" x2="355.90" y2="114.08" stroke="#f8b890" stroke-width="0.5"/>
<line x1="358.60" y1="123.0" x2="358.60" y2="118.67" stroke="#f8b890" stroke-width="0.5"/>
<line x1="361.50" y1="123.0" x2="361.50" y2="120.65" stroke="#f8b890" stroke-width="0.5"/>
<line x1="364.30" y1="123.0" x2="364.30" y2="122.00" stroke="#f8b890" stroke-width="0.5"/>
<line x1="367.00" y1="123.0" x2="367.00" y2="122.72" stroke="#f8b890" stroke-width="0.5"/>
<line x1="369.90" y1="123.0" x2="369.90" y2="123.17" stroke="#f8b890" stroke-width="0.5"/>
<line x1="324.30" y1="123.0" x2="324.30" y2="121.70" stroke="#7080e0" stroke-width="0.6" stroke-dasharray="0.8 2.2"/>
<line x1="327.20" y1="123.0" x2="327.20" y2="121.10" stroke="#7080e0" stroke-width="0.6" stroke-dasharray="0.8 2.2"/>
<line x1="330.20" y1="123.0" x2="330.20" y2="115.30" stroke="#7080e0" stroke-width="0.6" stroke-dasharray="0.8 2.2"/>
<line x1="333.10" y1="123.0" x2="333.10" y2="114.70" stroke="#7080e0" stroke-width="0.6" stroke-dasharray="0.8 2.2"/>
<line x1="336.10" y1="123.0" x2="336.10" y2="102.60" stroke="#7080e0" stroke-width="0.6" stroke-dasharray="0.8 2.2"/>
<line x1="339.00" y1="123.0" x2="339.00" y2="102.00" stroke="#7080e0" stroke-width="0.6" stroke-dasharray="0.8 2.2"/>
<line x1="341.70" y1="123.0" x2="341.70" y2="93.00" stroke="#7080e0" stroke-width="0.6" stroke-dasharray="0.8 2.2"/>
<line x1="344.60" y1="123.0" x2="344.60" y2="96.20" stroke="#7080e0" stroke-width="0.6" stroke-dasharray="0.8 2.2"/>
<line x1="347.40" y1="123.0" x2="347.40" y2="95.90" stroke="#7080e0" stroke-width="0.6" stroke-dasharray="0.8 2.2"/>
<line x1="350.10" y1="123.0" x2="350.10" y2="101.90" stroke="#7080e0" stroke-width="0.6" stroke-dasharray="0.8 2.2"/>
<line x1="353.00" y1="123.0" x2="353.00" y2="107.00" stroke="#7080e0" stroke-width="0.6" stroke-dasharray="0.8 2.2"/>
<line x1="355.90" y1="123.0" x2="355.90" y2="112.70" stroke="#7080e0" stroke-width="0.6" stroke-dasharray="0.8 2.2"/>
<line x1="358.60" y1="123.0" x2="358.60" y2="117.80" stroke="#7080e0" stroke-width="0.6" stroke-dasharray="0.8 2.2"/>
<line x1="361.50" y1="123.0" x2="361.50" y2="120.00" stroke="#7080e0" stroke-width="0.6" stroke-dasharray="0.8 2.2"/>
<line x1="364.30" y1="123.0" x2="364.30" y2="121.50" stroke="#7080e0" stroke-width="0.6" stroke-dasharray="0.8 2.2"/>
<line x1="367.00" y1="123.0" x2="367.00" y2="122.30" stroke="#7080e0" stroke-width="0.6" stroke-dasharray="0.8 2.2"/>
<line x1="369.90" y1="123.0" x2="369.90" y2="122.80" stroke="#7080e0" stroke-width="0.6" stroke-dasharray="0.8 2.2"/>
<line x1="321.3" y1="124.4" x2="367.3" y2="124.4" stroke="#8090e0" stroke-width="0.6"/>
<rect x="321.80" y="125.35" width="5.0" height="1.3" fill="#999"/>
<line x1="324.30" y1="124.4" x2="324.30" y2="125.30000000000001" stroke="#8090e0" stroke-width="0.4"/>
<rect x="335.80" y="125.35" width="5.0" height="1.3" fill="#8090e0"/>
<line x1="338.30" y1="124.4" x2="338.30" y2="125.30000000000001" stroke="#8090e0" stroke-width="0.4"/>
<rect x="349.80" y="125.35" width="5.0" height="1.3" fill="#8090e0"/>
<line x1="352.30" y1="124.4" x2="352.30" y2="125.30000000000001" stroke="#8090e0" stroke-width="0.4"/>
<rect x="363.80" y="125.35" width="5.0" height="1.3" fill="#999"/>
<line x1="366.30" y1="124.4" x2="366.30" y2="125.30000000000001" stroke="#8090e0" stroke-width="0.4"/>
<line x1="360" y1="91.5" x2="365.2" y2="91.5" stroke="#777" stroke-width="0.6"/>
<line x1="360" y1="94.2" x2="365.2" y2="94.2" stroke="#f0a070" stroke-width="0.6"/>
<rect x="365.8" y="90.7" width="4.2" height="1.6" fill="#555"/>
<rect x="365.8" y="93.4" width="4.2" height="1.6" fill="#555"/>
<rect x="212.1" y="3.3" width="165.4" height="127.3" fill="none" stroke="#7c7c7c" stroke-width="1.2"/>
<line x1="212.1" y1="130.9" x2="377.5" y2="130.9" stroke="#9a9a9a" stroke-width="1.6"/>
<line x1="212.10" y1="131.5" x2="212.10" y2="133.2" stroke="#777" stroke-width="0.7"/>
<line x1="239.67" y1="131.5" x2="239.67" y2="133.2" stroke="#777" stroke-width="0.7"/>
<line x1="267.23" y1="131.5" x2="267.23" y2="133.2" stroke="#777" stroke-width="0.7"/>
<line x1="294.80" y1="131.5" x2="294.80" y2="133.2" stroke="#777" stroke-width="0.7"/>
<line x1="322.37" y1="131.5" x2="322.37" y2="133.2" stroke="#777" stroke-width="0.7"/>
<line x1="349.93" y1="131.5" x2="349.93" y2="133.2" stroke="#777" stroke-width="0.7"/>
<line x1="377.50" y1="131.5" x2="377.50" y2="133.2" stroke="#777" stroke-width="0.7"/>
<line x1="212.1" y1="3.3" x2="377.5" y2="3.3" stroke="#555" stroke-width="1"/>
<text x="212.1" y="140.4" font-size="6.45" font-weight="bold" text-anchor="middle" fill="#111" stroke="#111" stroke-width="0.12" >3500</text>
<text x="267.23" y="140.4" font-size="6.45" font-weight="bold" text-anchor="middle" fill="#111" stroke="#111" stroke-width="0.12" >4000</text>
<text x="322.37" y="140.4" font-size="6.45" font-weight="bold" text-anchor="middle" fill="#111" stroke="#111" stroke-width="0.12" >4500</text>
<text x="377.5" y="140.4" font-size="6.45" font-weight="bold" text-anchor="middle" fill="#111" stroke="#111" stroke-width="0.12" >5000</text>
<text x="295.0" y="148.4" font-size="7.95" font-weight="normal" text-anchor="middle" fill="#111" stroke="#111" stroke-width="0.12" style="stroke-width:0.25">m/z (Da)</text>
<text transform="translate(204.3,69.2) rotate(-90)" font-size="7.95" font-weight="bold" text-anchor="middle" fill="#111">Intensity (a.u.)</text>
<text x="0.6" y="168.9" font-size="10.2" font-weight="bold" text-anchor="start" fill="#111" stroke="#111" stroke-width="0.12" >c)</text>
<path d="M28.4,288.06 L29.0,287.85 L29.6,287.66 L30.2,287.42 L30.8,287.14 L31.4,286.97 L32.0,286.86 L32.6,286.61 L33.2,286.51 L33.8,286.27 L34.4,286.17 L35.0,285.91 L35.6,285.74 L36.2,285.67 L36.8,285.47 L37.4,285.36 L38.0,285.12 L38.6,284.93 L39.2,284.85 L39.8,284.55 L40.4,284.42 L41.0,284.28 L41.6,284.01 L42.2,283.85 L42.8,283.61 L43.4,283.40 L44.0,283.20 L44.6,283.04 L45.2,282.80 L45.8,282.57 L46.4,282.33 L47.0,282.01 L47.6,281.77 L48.2,281.42 L48.8,281.16 L49.4,280.92 L50.0,280.60 L50.6,280.32 L51.2,279.90 L51.8,279.55 L52.4,279.21 L53.0,278.84 L53.6,278.48 L54.2,278.13 L54.8,277.80 L55.4,277.39 L56.0,276.85 L56.6,276.43 L57.2,276.05 L57.8,275.60 L58.4,275.19 L59.0,274.66 L59.6,274.14 L60.2,273.64 L60.8,273.16 L61.4,272.70 L62.0,272.06 L62.6,271.58 L63.2,271.02 L63.8,270.54 L64.4,269.88 L65.0,269.27 L65.6,268.75 L66.2,268.06 L66.8,267.55 L67.4,266.86 L68.0,266.33 L68.6,265.65 L69.2,265.02 L69.8,264.29 L70.4,263.66 L71.0,263.03 L71.6,262.25 L72.2,261.55 L72.8,260.82 L73.4,260.26 L74.0,259.47 L74.6,258.74 L75.2,258.10 L75.8,257.28 L76.4,256.50 L77.0,255.88 L77.6,254.95 L78.2,254.38 L78.8,253.45 L79.4,252.80 L80.0,251.90 L80.6,251.18 L81.2,250.45 L81.8,249.69 L82.4,248.86 L83.0,248.09 L83.6,247.34 L84.2,246.59 L84.8,245.61 L85.4,244.81 L86.0,243.96 L86.6,243.19 L87.2,242.46 L87.8,241.81 L88.4,240.87 L89.0,240.15 L89.6,239.35 L90.2,238.41 L90.8,237.80 L91.4,236.77 L92.0,236.16 L92.6,235.37 L93.2,234.49 L93.8,233.63 L94.4,232.78 L95.0,232.09 L95.6,231.09 L96.2,230.56 L96.8,229.51 L97.4,229.03 L98.0,227.99 L98.6,227.42 L99.2,226.55 L99.8,225.88 L100.4,225.11 L101.0,224.13 L101.6,223.54 L102.2,222.78 L102.8,222.36 L103.4,221.39 L104.0,220.56 L104.6,220.02 L105.2,219.19 L105.8,218.54 L106.4,217.73 L107.0,217.28 L107.6,216.76 L108.2,216.03 L108.8,215.38 L109.4,214.69 L110.0,213.94 L110.6,212.97 L111.2,212.91 L111.8,211.84 L112.4,211.51 L113.0,211.09 L113.6,210.35 L114.2,209.63 L114.8,209.03 L115.4,208.78 L116.0,207.89 L116.6,207.18 L117.2,207.21 L117.8,206.56 L118.4,205.72 L119.0,205.67 L119.6,204.88 L120.2,204.43 L120.8,203.96 L121.4,203.78 L122.0,203.01 L122.6,202.88 L123.2,202.22 L123.8,201.77 L124.4,201.49 L125.0,201.37 L125.6,200.89 L126.2,200.03 L126.8,200.10 L127.4,199.76 L128.0,199.25 L128.6,199.16 L129.2,198.54 L129.8,198.26 L130.4,197.89 L131.0,197.59 L131.6,197.62 L132.2,197.72 L132.8,196.90 L133.4,197.02 L134.0,196.87 L134.6,196.68 L135.2,196.39 L135.8,196.27 L136.4,196.28 L137.0,195.75 L137.6,196.03 L138.2,195.32 L138.8,195.72 L139.4,195.11 L140.0,195.35 L140.6,195.22 L141.2,195.07 L141.8,194.96 L142.4,195.11 L143.0,195.02 L143.6,194.72 L144.2,194.63 L144.8,194.60 L145.4,194.57 L146.0,194.99 L146.6,194.86 L147.2,195.22 L147.8,194.67 L148.4,195.02 L149.0,195.39 L149.6,195.12 L150.2,195.35 L150.8,195.07 L151.4,195.49 L152.0,195.53 L152.6,195.80 L153.2,195.74 L153.8,195.73 L154.4,195.90 L155.0,196.38 L155.6,196.35 L156.2,196.26 L156.8,196.47 L157.4,197.05 L158.0,197.16 L158.6,197.03 L159.2,197.80 L159.8,197.86 L160.4,198.20 L161.0,197.87 L161.6,198.15 L162.2,198.70 L162.8,199.03 L163.4,198.75 L164.0,199.30 L164.6,199.91 L165.2,199.96 L165.8,200.17 L166.4,200.71 L167.0,201.06 L167.6,201.04 L168.2,201.16 L168.8,201.81 L169.4,201.90 L170.0,202.20 L170.6,202.56 L171.2,203.17 L171.8,203.27 L172.4,203.52 L173.0,204.02 L173.6,204.40 L174.2,204.91 L174.8,205.37 L175.4,205.29 L176.0,206.08 L176.6,206.41 L177.2,206.83 L177.8,207.47 L178.4,207.62 L179.0,208.11 L179.6,208.52 L180.2,208.65 L180.8,209.32 L181.4,209.55 L182.0,210.47 L182.6,210.96 L183.2,210.99 L183.8,212.07 L184.4,212.44 L185.0,213.03 L185.6,213.03 L186.2,213.89" fill="none" stroke="#1a1a1a" stroke-width="1.15" stroke-linejoin="round"/>
<path d="M28.4,289.02 L29.0,289.01 L29.6,288.93 L30.2,288.83 L30.8,288.77 L31.4,288.71 L32.0,288.61 L32.6,288.53 L33.2,288.50 L33.8,288.42 L34.4,288.40 L35.0,288.32 L35.6,288.29 L36.2,288.31 L36.8,288.25 L37.4,288.15 L38.0,288.07 L38.6,288.05 L39.2,287.97 L39.8,287.91 L40.4,287.85 L41.0,287.81 L41.6,287.79 L42.2,287.71 L42.8,287.62 L43.4,287.56 L44.0,287.42 L44.6,287.43 L45.2,287.34 L45.8,287.17 L46.4,287.13 L47.0,287.01 L47.6,286.86 L48.2,286.80 L48.8,286.66 L49.4,286.48 L50.0,286.34 L50.6,286.27 L51.2,286.11 L51.8,285.90 L52.4,285.77 L53.0,285.61 L53.6,285.40 L54.2,285.26 L54.8,285.12 L55.4,284.86 L56.0,284.73 L56.6,284.45 L57.2,284.32 L57.8,284.08 L58.4,283.87 L59.0,283.59 L59.6,283.32 L60.2,283.16 L60.8,282.86 L61.4,282.66 L62.0,282.36 L62.6,282.12 L63.2,281.83 L63.8,281.56 L64.4,281.26 L65.0,280.92 L65.6,280.64 L66.2,280.31 L66.8,279.98 L67.4,279.74 L68.0,279.42 L68.6,279.04 L69.2,278.73 L69.8,278.36 L70.4,278.01 L71.0,277.67 L71.6,277.29 L72.2,277.01 L72.8,276.62 L73.4,276.28 L74.0,275.82 L74.6,275.52 L75.2,275.17 L75.8,274.73 L76.4,274.36 L77.0,273.98 L77.6,273.54 L78.2,273.13 L78.8,272.73 L79.4,272.31 L80.0,271.90 L80.6,271.52 L81.2,271.10 L81.8,270.70 L82.4,270.37 L83.0,269.98 L83.6,269.41 L84.2,269.14 L84.8,268.60 L85.4,268.27 L86.0,267.78 L86.6,267.39 L87.2,266.90 L87.8,266.58 L88.4,266.21 L89.0,265.74 L89.6,265.18 L90.2,264.76 L90.8,264.54 L91.4,263.95 L92.0,263.63 L92.6,263.16 L93.2,262.69 L93.8,262.35 L94.4,262.05 L95.0,261.46 L95.6,261.16 L96.2,260.61 L96.8,260.31 L97.4,259.92 L98.0,259.39 L98.6,259.21 L99.2,258.58 L99.8,258.20 L100.4,258.02 L101.0,257.54 L101.6,257.24 L102.2,256.88 L102.8,256.34 L103.4,255.86 L104.0,255.54 L104.6,255.24 L105.2,254.80 L105.8,254.37 L106.4,254.15 L107.0,253.75 L107.6,253.41 L108.2,253.05 L108.8,252.70 L109.4,252.29 L110.0,252.14 L110.6,251.78 L111.2,251.28 L111.8,251.32 L112.4,250.74 L113.0,250.61 L113.6,250.37 L114.2,250.13 L114.8,249.71 L115.4,249.20 L116.0,249.06 L116.6,248.74 L117.2,248.40 L117.8,248.27 L118.4,248.31 L119.0,248.05 L119.6,247.51 L120.2,247.15 L120.8,247.28 L121.4,246.77 L122.0,246.88 L122.6,246.40 L123.2,246.23 L123.8,246.20 L124.4,246.03 L125.0,245.49 L125.6,245.49 L126.2,245.50 L126.8,245.06 L127.4,245.31 L128.0,244.74 L128.6,244.78 L129.2,244.83 L129.8,244.48 L130.4,244.22 L131.0,244.29 L131.6,244.08 L132.2,244.16 L132.8,243.86 L133.4,244.10 L134.0,243.59 L134.6,243.51 L135.2,243.62 L135.8,243.55 L136.4,243.54 L137.0,243.58 L137.6,243.35 L138.2,243.12 L138.8,243.21 L139.4,243.12 L140.0,243.39 L140.6,243.20 L141.2,243.07 L141.8,243.27 L142.4,242.99 L143.0,243.11 L143.6,243.20 L144.2,243.21 L144.8,243.12 L145.4,243.46 L146.0,243.11 L146.6,243.51 L147.2,243.53 L147.8,243.61 L148.4,243.44 L149.0,243.54 L149.6,243.70 L150.2,243.62 L150.8,243.91 L151.4,244.01 L152.0,243.85 L152.6,244.16 L153.2,244.20 L153.8,244.13 L154.4,244.44 L155.0,244.27 L155.6,244.68 L156.2,244.76 L156.8,245.11 L157.4,244.94 L158.0,245.39 L158.6,245.19 L159.2,245.51 L159.8,245.59 L160.4,245.78 L161.0,245.94 L161.6,245.92 L162.2,246.29 L162.8,246.27 L163.4,246.63 L164.0,246.94 L164.6,246.88 L165.2,246.90 L165.8,247.53 L166.4,247.75 L167.0,247.84 L167.6,247.81 L168.2,248.32 L168.8,248.42 L169.4,248.58 L170.0,249.06 L170.6,249.23 L171.2,249.45 L171.8,249.35 L172.4,249.71 L173.0,249.92 L173.6,250.19 L174.2,250.30 L174.8,250.72 L175.4,251.28 L176.0,251.15 L176.6,251.76 L177.2,251.70 L177.8,252.09 L178.4,252.57 L179.0,252.88 L179.6,252.98 L180.2,253.23 L180.8,253.54 L181.4,253.97 L182.0,254.37 L182.6,254.46 L183.2,255.23 L183.8,255.32 L184.4,255.93 L185.0,256.24 L185.6,256.28 L186.2,256.80" fill="none" stroke="#6af040" stroke-width="1.15" stroke-linejoin="round"/>
<path d="M28.4,289.30 L29.0,289.34 L29.6,289.31 L30.2,289.24 L30.8,289.23 L31.4,289.19 L32.0,289.13 L32.6,289.08 L33.2,289.07 L33.8,289.01 L34.4,289.01 L35.0,288.95 L35.6,288.93 L36.2,288.97 L36.8,288.93 L37.4,288.84 L38.0,288.77 L38.6,288.76 L39.2,288.70 L39.8,288.64 L40.4,288.59 L41.0,288.56 L41.6,288.55 L42.2,288.48 L42.8,288.40 L43.4,288.36 L44.0,288.23 L44.6,288.25 L45.2,288.17 L45.8,288.02 L46.4,288.00 L47.0,287.89 L47.6,287.76 L48.2,287.72 L48.8,287.59 L49.4,287.45 L50.0,287.32 L50.6,287.28 L51.2,287.14 L51.8,286.96 L52.4,286.86 L53.0,286.73 L53.6,286.56 L54.2,286.45 L54.8,286.34 L55.4,286.12 L56.0,286.03 L56.6,285.80 L57.2,285.71 L57.8,285.51 L58.4,285.35 L59.0,285.11 L59.6,284.89 L60.2,284.79 L60.8,284.54 L61.4,284.39 L62.0,284.15 L62.6,283.97 L63.2,283.74 L63.8,283.53 L64.4,283.30 L65.0,283.01 L65.6,282.80 L66.2,282.54 L66.8,282.28 L67.4,282.11 L68.0,281.86 L68.6,281.55 L69.2,281.32 L69.8,281.02 L70.4,280.75 L71.0,280.49 L71.6,280.18 L72.2,279.98 L72.8,279.67 L73.4,279.42 L74.0,279.04 L74.6,278.82 L75.2,278.55 L75.8,278.19 L76.4,277.91 L77.0,277.62 L77.6,277.26 L78.2,276.94 L78.8,276.62 L79.4,276.29 L80.0,275.97 L80.6,275.67 L81.2,275.34 L81.8,275.03 L82.4,274.78 L83.0,274.48 L83.6,274.00 L84.2,273.81 L84.8,273.36 L85.4,273.12 L86.0,272.72 L86.6,272.41 L87.2,272.01 L87.8,271.77 L88.4,271.49 L89.0,271.10 L89.6,270.62 L90.2,270.29 L90.8,270.15 L91.4,269.65 L92.0,269.40 L92.6,269.02 L93.2,268.62 L93.8,268.37 L94.4,268.14 L95.0,267.63 L95.6,267.40 L96.2,266.93 L96.8,266.69 L97.4,266.38 L98.0,265.92 L98.6,265.81 L99.2,265.25 L99.8,264.94 L100.4,264.82 L101.0,264.41 L101.6,264.17 L102.2,263.87 L102.8,263.39 L103.4,262.97 L104.0,262.72 L104.6,262.47 L105.2,262.08 L105.8,261.71 L106.4,261.54 L107.0,261.19 L107.6,260.90 L108.2,260.59 L108.8,260.29 L109.4,259.92 L110.0,259.82 L110.6,259.49 L111.2,259.04 L111.8,259.11 L112.4,258.58 L113.0,258.48 L113.6,258.28 L114.2,258.07 L114.8,257.68 L115.4,257.20 L116.0,257.08 L116.6,256.80 L117.2,256.48 L117.8,256.38 L118.4,256.44 L119.0,256.20 L119.6,255.68 L120.2,255.34 L120.8,255.49 L121.4,255.00 L122.0,255.12 L122.6,254.65 L123.2,254.50 L123.8,254.48 L124.4,254.33 L125.0,253.79 L125.6,253.80 L126.2,253.82 L126.8,253.39 L127.4,253.64 L128.0,253.08 L128.6,253.12 L129.2,253.17 L129.8,252.82 L130.4,252.57 L131.0,252.63 L131.6,252.42 L132.2,252.51 L132.8,252.21 L133.4,252.44 L134.0,251.93 L134.6,251.85 L135.2,251.95 L135.8,251.88 L136.4,251.86 L137.0,251.89 L137.6,251.65 L138.2,251.42 L138.8,251.50 L139.4,251.41 L140.0,251.66 L140.6,251.47 L141.2,251.33 L141.8,251.53 L142.4,251.24 L143.0,251.34 L143.6,251.43 L144.2,251.43 L144.8,251.33 L145.4,251.66 L146.0,251.30 L146.6,251.68 L147.2,251.70 L147.8,251.77 L148.4,251.59 L149.0,251.68 L149.6,251.83 L150.2,251.74 L150.8,252.02 L151.4,252.10 L152.0,251.94 L152.6,252.24 L153.2,252.27 L153.8,252.19 L154.4,252.48 L155.0,252.30 L155.6,252.71 L156.2,252.77 L156.8,253.11 L157.4,252.93 L158.0,253.37 L158.6,253.16 L159.2,253.46 L159.8,253.53 L160.4,253.70 L161.0,253.85 L161.6,253.81 L162.2,254.16 L162.8,254.13 L163.4,254.48 L164.0,254.76 L164.6,254.68 L165.2,254.68 L165.8,255.29 L166.4,255.49 L167.0,255.55 L167.6,255.49 L168.2,255.97 L168.8,256.04 L169.4,256.17 L170.0,256.61 L170.6,256.74 L171.2,256.92 L171.8,256.78 L172.4,257.09 L173.0,257.25 L173.6,257.47 L174.2,257.53 L174.8,257.88 L175.4,258.37 L176.0,258.18 L176.6,258.71 L177.2,258.58 L177.8,258.89 L178.4,259.27 L179.0,259.50 L179.6,259.50 L180.2,259.64 L180.8,259.84 L181.4,260.15 L182.0,260.42 L182.6,260.38 L183.2,261.01 L183.8,260.94 L184.4,261.40 L185.0,261.54 L185.6,261.40 L186.2,261.74" fill="none" stroke="#2436d8" stroke-width="1.15" stroke-linejoin="round"/>
<rect x="28.5" y="161.9" width="158.0" height="127.29999999999998" fill="none" stroke="#555" stroke-width="1"/>
<line x1="26.0" y1="289.20" x2="28.5" y2="289.20" stroke="#444" stroke-width="0.8"/>
<text x="23.7" y="291.5" font-size="6.4" font-weight="bold" text-anchor="end" fill="#111" stroke="#111" stroke-width="0.12" >0</text>
<line x1="26.0" y1="263.74" x2="28.5" y2="263.74" stroke="#444" stroke-width="0.8"/>
<text x="23.7" y="266.04" font-size="6.4" font-weight="bold" text-anchor="end" fill="#111" stroke="#111" stroke-width="0.12" >2</text>
<line x1="26.0" y1="238.28" x2="28.5" y2="238.28" stroke="#444" stroke-width="0.8"/>
<text x="23.7" y="240.58" font-size="6.4" font-weight="bold" text-anchor="end" fill="#111" stroke="#111" stroke-width="0.12" >4</text>
<line x1="26.0" y1="212.82" x2="28.5" y2="212.82" stroke="#444" stroke-width="0.8"/>
<text x="23.7" y="215.12" font-size="6.4" font-weight="bold" text-anchor="end" fill="#111" stroke="#111" stroke-width="0.12" >6</text>
<line x1="26.0" y1="187.36" x2="28.5" y2="187.36" stroke="#444" stroke-width="0.8"/>
<text x="23.7" y="189.66000000000003" font-size="6.4" font-weight="bold" text-anchor="end" fill="#111" stroke="#111" stroke-width="0.12" >8</text>
<line x1="26.0" y1="161.90" x2="28.5" y2="161.90" stroke="#444" stroke-width="0.8"/>
<text x="23.7" y="164.20000000000002" font-size="6.4" font-weight="bold" text-anchor="end" fill="#111" stroke="#111" stroke-width="0.12" >10</text>
<line x1="28.50" y1="289.2" x2="28.50" y2="291.2" stroke="#444" stroke-width="0.8"/>
<text x="28.5" y="298.6" font-size="6.4" font-weight="bold" text-anchor="middle" fill="#111" stroke="#111" stroke-width="0.12" >600</text>
<line x1="64.25" y1="289.2" x2="64.25" y2="291.2" stroke="#444" stroke-width="0.8"/>
<text x="64.25" y="298.6" font-size="6.4" font-weight="bold" text-anchor="middle" fill="#111" stroke="#111" stroke-width="0.12" >650</text>
<line x1="100.00" y1="289.2" x2="100.00" y2="291.2" stroke="#444" stroke-width="0.8"/>
<text x="100.0" y="298.6" font-size="6.4" font-weight="bold" text-anchor="middle" fill="#111" stroke="#111" stroke-width="0.12" >700</text>
<line x1="135.75" y1="289.2" x2="135.75" y2="291.2" stroke="#444" stroke-width="0.8"/>
<text x="135.75" y="298.6" font-size="6.4" font-weight="bold" text-anchor="middle" fill="#111" stroke="#111" stroke-width="0.12" >750</text>
<line x1="171.50" y1="289.2" x2="171.50" y2="291.2" stroke="#444" stroke-width="0.8"/>
<text x="171.5" y="298.6" font-size="6.4" font-weight="bold" text-anchor="middle" fill="#111" stroke="#111" stroke-width="0.12" >800</text>
<text x="107.3" y="311.7" font-size="8.45" font-weight="bold" text-anchor="middle" fill="#111" stroke="#111" stroke-width="0.12" >Wavelength (nm)</text>
<text transform="translate(9.0,220.6) rotate(-90)" font-size="8.4" font-weight="bold" text-anchor="middle" fill="#111">PL Intensity (x10<tspan font-size="5.6" dy="-3">5</tspan><tspan dy="3"> a.u.)</tspan></text>
<line x1="145.8" y1="166.5" x2="156.2" y2="166.5" stroke="#2a3ae0" stroke-width="1.2"/>
<text x="157.6" y="168.7" font-size="6.9" font-weight="bold" fill="#111" stroke="#111" stroke-width="0.1" textLength="27" lengthAdjust="spacingAndGlyphs"><tspan font-style="italic">R</tspan>-Au<tspan font-size="4.14" dy="1.3">9</tspan><tspan dy="-1.3">Ag</tspan><tspan font-size="4.14" dy="1.3">4</tspan></text>
<line x1="145.8" y1="178.2" x2="156.2" y2="178.2" stroke="#6af040" stroke-width="1.2"/>
<text x="157.6" y="180.39999999999998" font-size="6.9" font-weight="bold" fill="#111" stroke="#111" stroke-width="0.1" textLength="27" lengthAdjust="spacingAndGlyphs"><tspan font-style="italic">S</tspan>-Au<tspan font-size="4.14" dy="1.3">9</tspan><tspan dy="-1.3">Ag</tspan><tspan font-size="4.14" dy="1.3">4</tspan></text>
<line x1="145.8" y1="189.9" x2="156.2" y2="189.9" stroke="#444" stroke-width="1.2"/>
<text x="157.6" y="192.1" font-size="6.9" font-weight="bold" fill="#111" stroke="#111" stroke-width="0.1" textLength="22" lengthAdjust="spacingAndGlyphs">Au<tspan font-size="4.14" dy="1.3">9</tspan><tspan dy="-1.3">Ag</tspan><tspan font-size="4.14" dy="1.3">4</tspan></text>
<text x="195.6" y="169.6" font-size="10.2" font-weight="bold" text-anchor="start" fill="#111" stroke="#111" stroke-width="0.12" >d)</text>
<line x1="293.8" y1="175.5" x2="293.8" y2="305.8" stroke="#d8dcec" stroke-width="1.3"/>
<g><line x1="226.00" y1="201.00" x2="223.50" y2="195.50" stroke="#707070" stroke-width="2.3" stroke-linecap="round"/>
<line x1="226.00" y1="201.00" x2="223.50" y2="195.50" stroke="#a8a8a8" stroke-width="1.26" stroke-linecap="round"/>
<line x1="226.00" y1="201.00" x2="221.00" y2="206.00" stroke="#707070" stroke-width="2.3" stroke-linecap="round"/>
<line x1="226.00" y1="201.00" x2="221.00" y2="206.00" stroke="#a8a8a8" stroke-width="1.26" stroke-linecap="round"/>
<line x1="221.00" y1="206.00" x2="208.50" y2="211.00" stroke="#707070" stroke-width="2.3" stroke-linecap="round"/>
<line x1="221.00" y1="206.00" x2="208.50" y2="211.00" stroke="#a8a8a8" stroke-width="1.26" stroke-linecap="round"/>
<line x1="208.50" y1="211.00" x2="207.00" y2="222.50" stroke="#707070" stroke-width="2.3" stroke-linecap="round"/>
<line x1="208.50" y1="211.00" x2="207.00" y2="222.50" stroke="#a8a8a8" stroke-width="1.26" stroke-linecap="round"/>
<line x1="207.00" y1="222.50" x2="209.75" y2="236.00" stroke="#707070" stroke-width="2.3" stroke-linecap="round"/>
<line x1="207.00" y1="222.50" x2="209.75" y2="236.00" stroke="#a8a8a8" stroke-width="1.26" stroke-linecap="round"/>
<line x1="273.00" y1="202.00" x2="276.00" y2="195.50" stroke="#707070" stroke-width="2.3" stroke-linecap="round"/>
<line x1="273.00" y1="202.00" x2="276.00" y2="195.50" stroke="#a8a8a8" stroke-width="1.26" stroke-linecap="round"/>
<line x1="276.00" y1="195.50" x2="266.00" y2="189.50" stroke="#707070" stroke-width="2.3" stroke-linecap="round"/>
<line x1="276.00" y1="195.50" x2="266.00" y2="189.50" stroke="#a8a8a8" stroke-width="1.26" stroke-linecap="round"/>
<line x1="266.00" y1="189.50" x2="256.00" y2="197.00" stroke="#707070" stroke-width="2.3" stroke-linecap="round"/>
<line x1="266.00" y1="189.50" x2="256.00" y2="197.00" stroke="#a8a8a8" stroke-width="1.26" stroke-linecap="round"/>
<line x1="256.00" y1="197.00" x2="261.50" y2="205.00" stroke="#707070" stroke-width="2.3" stroke-linecap="round"/>
<line x1="256.00" y1="197.00" x2="261.50" y2="205.00" stroke="#a8a8a8" stroke-width="1.26" stroke-linecap="round"/>
<line x1="261.50" y1="205.00" x2="251.80" y2="217.30" stroke="#707070" stroke-width="2.3" stroke-linecap="round"/>
<line x1="261.50" y1="205.00" x2="251.80" y2="217.30" stroke="#a8a8a8" stroke-width="1.26" stroke-linecap="round"/>
<line x1="285.00" y1="243.50" x2="285.50" y2="258.00" stroke="#707070" stroke-width="2.3" stroke-linecap="round"/>
<line x1="285.00" y1="243.50" x2="285.50" y2="258.00" stroke="#a8a8a8" stroke-width="1.26" stroke-linecap="round"/>
<line x1="285.50" y1="258.00" x2="285.50" y2="267.25" stroke="#707070" stroke-width="2.3" stroke-linecap="round"/>
<line x1="285.50" y1="258.00" x2="285.50" y2="267.25" stroke="#a8a8a8" stroke-width="1.26" stroke-linecap="round"/>
<line x1="285.50" y1="267.25" x2="273.50" y2="273.50" stroke="#707070" stroke-width="2.3" stroke-linecap="round"/>
<line x1="285.50" y1="267.25" x2="273.50" y2="273.50" stroke="#a8a8a8" stroke-width="1.26" stroke-linecap="round"/>
<line x1="273.50" y1="273.50" x2="270.50" y2="283.50" stroke="#707070" stroke-width="2.3" stroke-linecap="round"/>
<line x1="273.50" y1="273.50" x2="270.50" y2="283.50" stroke="#a8a8a8" stroke-width="1.26" stroke-linecap="round"/>
<line x1="270.50" y1="283.50" x2="269.75" y2="279.75" stroke="#707070" stroke-width="2.3" stroke-linecap="round"/>
<line x1="270.50" y1="283.50" x2="269.75" y2="279.75" stroke="#a8a8a8" stroke-width="1.26" stroke-linecap="round"/>
<line x1="222.25" y1="276.00" x2="223.50" y2="282.25" stroke="#707070" stroke-width="2.3" stroke-linecap="round"/>
<line x1="222.25" y1="276.00" x2="223.50" y2="282.25" stroke="#a8a8a8" stroke-width="1.26" stroke-linecap="round"/>
<line x1="223.50" y1="282.25" x2="236.00" y2="284.75" stroke="#707070" stroke-width="2.3" stroke-linecap="round"/>
<line x1="223.50" y1="282.25" x2="236.00" y2="284.75" stroke="#a8a8a8" stroke-width="1.26" stroke-linecap="round"/>
<line x1="236.00" y1="284.75" x2="234.75" y2="273.50" stroke="#707070" stroke-width="2.3" stroke-linecap="round"/>
<line x1="236.00" y1="284.75" x2="234.75" y2="273.50" stroke="#a8a8a8" stroke-width="1.26" stroke-linecap="round"/>
<line x1="234.75" y1="273.50" x2="239.38" y2="269.25" stroke="#707070" stroke-width="1.8" stroke-linecap="butt"/>
<line x1="234.75" y1="273.50" x2="239.38" y2="269.25" stroke="#a8a8a8" stroke-width="0.99" stroke-linecap="butt"/>
<line x1="239.38" y1="269.25" x2="244.00" y2="265.00" stroke="#b86a10" stroke-width="1.8" stroke-linecap="butt"/>
<line x1="239.38" y1="269.25" x2="244.00" y2="265.00" stroke="#f0a030" stroke-width="0.99" stroke-linecap="butt"/>
<line x1="226.00" y1="201.00" x2="224.75" y2="198.25" stroke="#b86a10" stroke-width="2.0" stroke-linecap="butt"/>
<line x1="226.00" y1="201.00" x2="224.75" y2="198.25" stroke="#f0a030" stroke-width="1.10" stroke-linecap="butt"/>
<line x1="224.75" y1="198.25" x2="223.50" y2="195.50" stroke="#707070" stroke-width="2.0" stroke-linecap="butt"/>
<line x1="224.75" y1="198.25" x2="223.50" y2="195.50" stroke="#a8a8a8" stroke-width="1.10" stroke-linecap="butt"/>
<line x1="236.30" y1="218.60" x2="261.70" y2="219.20" stroke="#c0a010" stroke-width="1.8" stroke-linecap="round"/>
<line x1="236.30" y1="218.60" x2="261.70" y2="219.20" stroke="#f2d428" stroke-width="0.99" stroke-linecap="round"/>
<line x1="261.70" y1="219.20" x2="269.50" y2="240.80" stroke="#c0a010" stroke-width="1.8" stroke-linecap="round"/>
<line x1="261.70" y1="219.20" x2="269.50" y2="240.80" stroke="#f2d428" stroke-width="0.99" stroke-linecap="round"/>
<line x1="269.50" y1="240.80" x2="260.40" y2="261.60" stroke="#c0a010" stroke-width="1.8" stroke-linecap="round"/>
<line x1="269.50" y1="240.80" x2="260.40" y2="261.60" stroke="#f2d428" stroke-width="0.99" stroke-linecap="round"/>
<line x1="260.40" y1="261.60" x2="233.50" y2="260.00" stroke="#c0a010" stroke-width="1.8" stroke-linecap="round"/>
<line x1="260.40" y1="261.60" x2="233.50" y2="260.00" stroke="#f2d428" stroke-width="0.99" stroke-linecap="round"/>
<line x1="233.50" y1="260.00" x2="227.60" y2="238.50" stroke="#c0a010" stroke-width="1.8" stroke-linecap="round"/>
<line x1="233.50" y1="260.00" x2="227.60" y2="238.50" stroke="#f2d428" stroke-width="0.99" stroke-linecap="round"/>
<line x1="227.60" y1="238.50" x2="236.30" y2="218.60" stroke="#c0a010" stroke-width="1.8" stroke-linecap="round"/>
<line x1="227.60" y1="238.50" x2="236.30" y2="218.60" stroke="#f2d428" stroke-width="0.99" stroke-linecap="round"/>
<line x1="236.30" y1="218.60" x2="260.40" y2="261.60" stroke="#c0a010" stroke-width="1.5" stroke-linecap="round"/>
<line x1="236.30" y1="218.60" x2="260.40" y2="261.60" stroke="#f2d428" stroke-width="0.83" stroke-linecap="round"/>
<line x1="261.70" y1="219.20" x2="233.50" y2="260.00" stroke="#c0a010" stroke-width="1.5" stroke-linecap="round"/>
<line x1="261.70" y1="219.20" x2="233.50" y2="260.00" stroke="#f2d428" stroke-width="0.83" stroke-linecap="round"/>
<line x1="227.60" y1="238.50" x2="269.50" y2="240.80" stroke="#c0a010" stroke-width="1.5" stroke-linecap="round"/>
<line x1="227.60" y1="238.50" x2="269.50" y2="240.80" stroke="#f2d428" stroke-width="0.83" stroke-linecap="round"/>
<line x1="236.30" y1="218.60" x2="242.45" y2="223.05" stroke="#c0a010" stroke-width="1.6" stroke-linecap="butt"/>
<line x1="236.30" y1="218.60" x2="242.45" y2="223.05" stroke="#f2d428" stroke-width="0.88" stroke-linecap="butt"/>
<line x1="242.45" y1="223.05" x2="248.60" y2="227.50" stroke="#9a9a9a" stroke-width="1.6" stroke-linecap="butt"/>
<line x1="242.45" y1="223.05" x2="248.60" y2="227.50" stroke="#e2e2e2" stroke-width="0.88" stroke-linecap="butt"/>
<line x1="261.70" y1="219.20" x2="255.15" y2="223.35" stroke="#c0a010" stroke-width="1.6" stroke-linecap="butt"/>
<line x1="261.70" y1="219.20" x2="255.15" y2="223.35" stroke="#f2d428" stroke-width="0.88" stroke-linecap="butt"/>
<line x1="255.15" y1="223.35" x2="248.60" y2="227.50" stroke="#9a9a9a" stroke-width="1.6" stroke-linecap="butt"/>
<line x1="255.15" y1="223.35" x2="248.60" y2="227.50" stroke="#e2e2e2" stroke-width="0.88" stroke-linecap="butt"/>
<line x1="233.50" y1="260.00" x2="240.90" y2="256.00" stroke="#c0a010" stroke-width="1.6" stroke-linecap="butt"/>
<line x1="233.50" y1="260.00" x2="240.90" y2="256.00" stroke="#f2d428" stroke-width="0.88" stroke-linecap="butt"/>
<line x1="240.90" y1="256.00" x2="248.30" y2="252.00" stroke="#9a9a9a" stroke-width="1.6" stroke-linecap="butt"/>
<line x1="240.90" y1="256.00" x2="248.30" y2="252.00" stroke="#e2e2e2" stroke-width="0.88" stroke-linecap="butt"/>
<line x1="260.40" y1="261.60" x2="254.35" y2="256.80" stroke="#c0a010" stroke-width="1.6" stroke-linecap="butt"/>
<line x1="260.40" y1="261.60" x2="254.35" y2="256.80" stroke="#f2d428" stroke-width="0.88" stroke-linecap="butt"/>
<line x1="254.35" y1="256.80" x2="248.30" y2="252.00" stroke="#9a9a9a" stroke-width="1.6" stroke-linecap="butt"/>
<line x1="254.35" y1="256.80" x2="248.30" y2="252.00" stroke="#e2e2e2" stroke-width="0.88" stroke-linecap="butt"/>
<line x1="227.60" y1="238.50" x2="238.10" y2="233.00" stroke="#c0a010" stroke-width="1.5" stroke-linecap="butt"/>
<line x1="227.60" y1="238.50" x2="238.10" y2="233.00" stroke="#f2d428" stroke-width="0.83" stroke-linecap="butt"/>
<line x1="238.10" y1="233.00" x2="248.60" y2="227.50" stroke="#9a9a9a" stroke-width="1.5" stroke-linecap="butt"/>
<line x1="238.10" y1="233.00" x2="248.60" y2="227.50" stroke="#e2e2e2" stroke-width="0.83" stroke-linecap="butt"/>
<line x1="269.50" y1="240.80" x2="259.05" y2="234.15" stroke="#c0a010" stroke-width="1.5" stroke-linecap="butt"/>
<line x1="269.50" y1="240.80" x2="259.05" y2="234.15" stroke="#f2d428" stroke-width="0.83" stroke-linecap="butt"/>
<line x1="259.05" y1="234.15" x2="248.60" y2="227.50" stroke="#9a9a9a" stroke-width="1.5" stroke-linecap="butt"/>
<line x1="259.05" y1="234.15" x2="248.60" y2="227.50" stroke="#e2e2e2" stroke-width="0.83" stroke-linecap="butt"/>
<line x1="227.60" y1="238.50" x2="237.95" y2="245.25" stroke="#c0a010" stroke-width="1.5" stroke-linecap="butt"/>
<line x1="227.60" y1="238.50" x2="237.95" y2="245.25" stroke="#f2d428" stroke-width="0.83" stroke-linecap="butt"/>
<line x1="237.95" y1="245.25" x2="248.30" y2="252.00" stroke="#9a9a9a" stroke-width="1.5" stroke-linecap="butt"/>
<line x1="237.95" y1="245.25" x2="248.30" y2="252.00" stroke="#e2e2e2" stroke-width="0.83" stroke-linecap="butt"/>
<line x1="269.50" y1="240.80" x2="258.90" y2="246.40" stroke="#c0a010" stroke-width="1.5" stroke-linecap="butt"/>
<line x1="269.50" y1="240.80" x2="258.90" y2="246.40" stroke="#f2d428" stroke-width="0.83" stroke-linecap="butt"/>
<line x1="258.90" y1="246.40" x2="248.30" y2="252.00" stroke="#9a9a9a" stroke-width="1.5" stroke-linecap="butt"/>
<line x1="258.90" y1="246.40" x2="248.30" y2="252.00" stroke="#e2e2e2" stroke-width="0.83" stroke-linecap="butt"/>
<line x1="248.60" y1="227.50" x2="248.30" y2="252.00" stroke="#9a9a9a" stroke-width="1.7" stroke-linecap="round"/>
<line x1="248.60" y1="227.50" x2="248.30" y2="252.00" stroke="#e2e2e2" stroke-width="0.94" stroke-linecap="round"/>
<line x1="226.00" y1="201.00" x2="231.15" y2="209.80" stroke="#b86a10" stroke-width="1.9" stroke-linecap="butt"/>
<line x1="226.00" y1="201.00" x2="231.15" y2="209.80" stroke="#f0a030" stroke-width="1.04" stroke-linecap="butt"/>
<line x1="231.15" y1="209.80" x2="236.30" y2="218.60" stroke="#c0a010" stroke-width="1.9" stroke-linecap="butt"/>
<line x1="231.15" y1="209.80" x2="236.30" y2="218.60" stroke="#f2d428" stroke-width="1.04" stroke-linecap="butt"/>
<line x1="273.00" y1="202.00" x2="267.35" y2="210.60" stroke="#b86a10" stroke-width="1.9" stroke-linecap="butt"/>
<line x1="273.00" y1="202.00" x2="267.35" y2="210.60" stroke="#f0a030" stroke-width="1.04" stroke-linecap="butt"/>
<line x1="267.35" y1="210.60" x2="261.70" y2="219.20" stroke="#c0a010" stroke-width="1.9" stroke-linecap="butt"/>
<line x1="267.35" y1="210.60" x2="261.70" y2="219.20" stroke="#f2d428" stroke-width="1.04" stroke-linecap="butt"/>
<line x1="209.75" y1="236.00" x2="218.68" y2="237.25" stroke="#b86a10" stroke-width="1.9" stroke-linecap="butt"/>
<line x1="209.75" y1="236.00" x2="218.68" y2="237.25" stroke="#f0a030" stroke-width="1.04" stroke-linecap="butt"/>
<line x1="218.68" y1="237.25" x2="227.60" y2="238.50" stroke="#c0a010" stroke-width="1.9" stroke-linecap="butt"/>
<line x1="218.68" y1="237.25" x2="227.60" y2="238.50" stroke="#f2d428" stroke-width="1.04" stroke-linecap="butt"/>
<line x1="251.80" y1="217.30" x2="256.75" y2="218.25" stroke="#b86a10" stroke-width="1.9" stroke-linecap="butt"/>
<line x1="251.80" y1="217.30" x2="256.75" y2="218.25" stroke="#f0a030" stroke-width="1.04" stroke-linecap="butt"/>
<line x1="256.75" y1="218.25" x2="261.70" y2="219.20" stroke="#c0a010" stroke-width="1.9" stroke-linecap="butt"/>
<line x1="256.75" y1="218.25" x2="261.70" y2="219.20" stroke="#f2d428" stroke-width="1.04" stroke-linecap="butt"/>
<line x1="285.00" y1="243.50" x2="277.25" y2="242.15" stroke="#b86a10" stroke-width="1.9" stroke-linecap="butt"/>
<line x1="285.00" y1="243.50" x2="277.25" y2="242.15" stroke="#f0a030" stroke-width="1.04" stroke-linecap="butt"/>
<line x1="277.25" y1="242.15" x2="269.50" y2="240.80" stroke="#c0a010" stroke-width="1.9" stroke-linecap="butt"/>
<line x1="277.25" y1="242.15" x2="269.50" y2="240.80" stroke="#f2d428" stroke-width="1.04" stroke-linecap="butt"/>
<line x1="222.25" y1="276.00" x2="227.88" y2="268.00" stroke="#b86a10" stroke-width="1.9" stroke-linecap="butt"/>
<line x1="222.25" y1="276.00" x2="227.88" y2="268.00" stroke="#f0a030" stroke-width="1.04" stroke-linecap="butt"/>
<line x1="227.88" y1="268.00" x2="233.50" y2="260.00" stroke="#c0a010" stroke-width="1.9" stroke-linecap="butt"/>
<line x1="227.88" y1="268.00" x2="233.50" y2="260.00" stroke="#f2d428" stroke-width="1.04" stroke-linecap="butt"/>
<line x1="269.75" y1="279.75" x2="265.07" y2="270.68" stroke="#b86a10" stroke-width="1.9" stroke-linecap="butt"/>
<line x1="269.75" y1="279.75" x2="265.07" y2="270.68" stroke="#f0a030" stroke-width="1.04" stroke-linecap="butt"/>
<line x1="265.07" y1="270.68" x2="260.40" y2="261.60" stroke="#c0a010" stroke-width="1.9" stroke-linecap="butt"/>
<line x1="265.07" y1="270.68" x2="260.40" y2="261.60" stroke="#f2d428" stroke-width="1.04" stroke-linecap="butt"/>
<line x1="208.80" y1="242.20" x2="227.60" y2="238.50" stroke="#707070" stroke-width="1.9" stroke-linecap="round"/>
<line x1="208.80" y1="242.20" x2="227.60" y2="238.50" stroke="#707070" stroke-width="1.04" stroke-linecap="round"/>
<line x1="287.25" y1="238.30" x2="269.50" y2="240.80" stroke="#707070" stroke-width="1.9" stroke-linecap="round"/>
<line x1="287.25" y1="238.30" x2="269.50" y2="240.80" stroke="#707070" stroke-width="1.04" stroke-linecap="round"/>
<line x1="244.50" y1="214.80" x2="246.55" y2="221.15" stroke="#58a828" stroke-width="1.9" stroke-linecap="butt"/>
<line x1="244.50" y1="214.80" x2="246.55" y2="221.15" stroke="#90e858" stroke-width="1.04" stroke-linecap="butt"/>
<line x1="246.55" y1="221.15" x2="248.60" y2="227.50" stroke="#9a9a9a" stroke-width="1.9" stroke-linecap="butt"/>
<line x1="246.55" y1="221.15" x2="248.60" y2="227.50" stroke="#e2e2e2" stroke-width="1.04" stroke-linecap="butt"/>
<line x1="247.50" y1="262.00" x2="247.90" y2="257.00" stroke="#58a828" stroke-width="1.9" stroke-linecap="butt"/>
<line x1="247.50" y1="262.00" x2="247.90" y2="257.00" stroke="#90e858" stroke-width="1.04" stroke-linecap="butt"/>
<line x1="247.90" y1="257.00" x2="248.30" y2="252.00" stroke="#9a9a9a" stroke-width="1.9" stroke-linecap="butt"/>
<line x1="247.90" y1="257.00" x2="248.30" y2="252.00" stroke="#e2e2e2" stroke-width="1.04" stroke-linecap="butt"/>
<circle cx="226" cy="201" r="3.7" fill="url(#dP)"/>
<circle cx="273" cy="202" r="3.7" fill="url(#dP)"/>
<circle cx="209.75" cy="236" r="3.7" fill="url(#dP)"/>
<circle cx="251.8" cy="217.3" r="3.7" fill="url(#dP)"/>
<circle cx="285" cy="243.5" r="3.7" fill="url(#dP)"/>
<circle cx="222.25" cy="276" r="3.7" fill="url(#dP)"/>
<circle cx="269.75" cy="279.75" r="3.7" fill="url(#dP)"/>
<circle cx="223.5" cy="195.5" r="3.75" fill="url(#dC)"/>
<circle cx="221" cy="206" r="3.75" fill="url(#dC)"/>
<circle cx="208.5" cy="211" r="3.75" fill="url(#dC)"/>
<circle cx="207" cy="222.5" r="3.75" fill="url(#dC)"/>
<circle cx="266" cy="189.5" r="3.75" fill="url(#dC)"/>
<circle cx="276" cy="195.5" r="3.75" fill="url(#dC)"/>
<circle cx="256" cy="197" r="3.75" fill="url(#dC)"/>
<circle cx="261.5" cy="205" r="3.75" fill="url(#dC)"/>
<circle cx="285.5" cy="258" r="3.75" fill="url(#dC)"/>
<circle cx="285.5" cy="267.25" r="3.75" fill="url(#dC)"/>
<circle cx="273.5" cy="273.5" r="3.75" fill="url(#dC)"/>
<circle cx="270.5" cy="283.5" r="3.75" fill="url(#dC)"/>
<circle cx="234.75" cy="273.5" r="3.75" fill="url(#dC)"/>
<circle cx="236" cy="284.75" r="3.75" fill="url(#dC)"/>
<circle cx="223.5" cy="282.25" r="3.75" fill="url(#dC)"/>
<circle cx="244.5" cy="214.8" r="3.4" fill="url(#dCl)"/>
<circle cx="208.8" cy="242.2" r="3.4" fill="url(#dCl)"/>
<circle cx="287.25" cy="238.3" r="3.4" fill="url(#dCl)"/>
<circle cx="247.5" cy="262" r="3.4" fill="url(#dCl)"/>
<circle cx="236.3" cy="218.6" r="3.2" fill="url(#dAu)"/>
<circle cx="261.7" cy="219.2" r="3.2" fill="url(#dAu)"/>
<circle cx="227.6" cy="238.5" r="3.2" fill="url(#dAu)"/>
<circle cx="269.5" cy="240.8" r="3.2" fill="url(#dAu)"/>
<circle cx="233.5" cy="260.0" r="3.2" fill="url(#dAu)"/>
<circle cx="260.4" cy="261.6" r="3.2" fill="url(#dAu)"/>
<circle cx="248.6" cy="227.5" r="3.2" fill="url(#dAg)"/>
<circle cx="248.3" cy="252.0" r="3.2" fill="url(#dAg)"/></g>
<g transform="translate(589,0) scale(-1,1)"><line x1="226.00" y1="201.00" x2="223.50" y2="195.50" stroke="#707070" stroke-width="2.3" stroke-linecap="round"/>
<line x1="226.00" y1="201.00" x2="223.50" y2="195.50" stroke="#a8a8a8" stroke-width="1.26" stroke-linecap="round"/>
<line x1="226.00" y1="201.00" x2="221.00" y2="206.00" stroke="#707070" stroke-width="2.3" stroke-linecap="round"/>
<line x1="226.00" y1="201.00" x2="221.00" y2="206.00" stroke="#a8a8a8" stroke-width="1.26" stroke-linecap="round"/>
<line x1="221.00" y1="206.00" x2="208.50" y2="211.00" stroke="#707070" stroke-width="2.3" stroke-linecap="round"/>
<line x1="221.00" y1="206.00" x2="208.50" y2="211.00" stroke="#a8a8a8" stroke-width="1.26" stroke-linecap="round"/>
<line x1="208.50" y1="211.00" x2="207.00" y2="222.50" stroke="#707070" stroke-width="2.3" stroke-linecap="round"/>
<line x1="208.50" y1="211.00" x2="207.00" y2="222.50" stroke="#a8a8a8" stroke-width="1.26" stroke-linecap="round"/>
<line x1="207.00" y1="222.50" x2="209.75" y2="236.00" stroke="#707070" stroke-width="2.3" stroke-linecap="round"/>
<line x1="207.00" y1="222.50" x2="209.75" y2="236.00" stroke="#a8a8a8" stroke-width="1.26" stroke-linecap="round"/>
<line x1="273.00" y1="202.00" x2="276.00" y2="195.50" stroke="#707070" stroke-width="2.3" stroke-linecap="round"/>
<line x1="273.00" y1="202.00" x2="276.00" y2="195.50" stroke="#a8a8a8" stroke-width="1.26" stroke-linecap="round"/>
<line x1="276.00" y1="195.50" x2="266.00" y2="189.50" stroke="#707070" stroke-width="2.3" stroke-linecap="round"/>
<line x1="276.00" y1="195.50" x2="266.00" y2="189.50" stroke="#a8a8a8" stroke-width="1.26" stroke-linecap="round"/>
<line x1="266.00" y1="189.50" x2="256.00" y2="197.00" stroke="#707070" stroke-width="2.3" stroke-linecap="round"/>
<line x1="266.00" y1="189.50" x2="256.00" y2="197.00" stroke="#a8a8a8" stroke-width="1.26" stroke-linecap="round"/>
<line x1="256.00" y1="197.00" x2="261.50" y2="205.00" stroke="#707070" stroke-width="2.3" stroke-linecap="round"/>
<line x1="256.00" y1="197.00" x2="261.50" y2="205.00" stroke="#a8a8a8" stroke-width="1.26" stroke-linecap="round"/>
<line x1="261.50" y1="205.00" x2="251.80" y2="217.30" stroke="#707070" stroke-width="2.3" stroke-linecap="round"/>
<line x1="261.50" y1="205.00" x2="251.80" y2="217.30" stroke="#a8a8a8" stroke-width="1.26" stroke-linecap="round"/>
<line x1="285.00" y1="243.50" x2="285.50" y2="258.00" stroke="#707070" stroke-width="2.3" stroke-linecap="round"/>
<line x1="285.00" y1="243.50" x2="285.50" y2="258.00" stroke="#a8a8a8" stroke-width="1.26" stroke-linecap="round"/>
<line x1="285.50" y1="258.00" x2="285.50" y2="267.25" stroke="#707070" stroke-width="2.3" stroke-linecap="round"/>
<line x1="285.50" y1="258.00" x2="285.50" y2="267.25" stroke="#a8a8a8" stroke-width="1.26" stroke-linecap="round"/>
<line x1="285.50" y1="267.25" x2="273.50" y2="273.50" stroke="#707070" stroke-width="2.3" stroke-linecap="round"/>
<line x1="285.50" y1="267.25" x2="273.50" y2="273.50" stroke="#a8a8a8" stroke-width="1.26" stroke-linecap="round"/>
<line x1="273.50" y1="273.50" x2="270.50" y2="283.50" stroke="#707070" stroke-width="2.3" stroke-linecap="round"/>
<line x1="273.50" y1="273.50" x2="270.50" y2="283.50" stroke="#a8a8a8" stroke-width="1.26" stroke-linecap="round"/>
<line x1="270.50" y1="283.50" x2="269.75" y2="279.75" stroke="#707070" stroke-width="2.3" stroke-linecap="round"/>
<line x1="270.50" y1="283.50" x2="269.75" y2="279.75" stroke="#a8a8a8" stroke-width="1.26" stroke-linecap="round"/>
<line x1="222.25" y1="276.00" x2="223.50" y2="282.25" stroke="#707070" stroke-width="2.3" stroke-linecap="round"/>
<line x1="222.25" y1="276.00" x2="223.50" y2="282.25" stroke="#a8a8a8" stroke-width="1.26" stroke-linecap="round"/>
<line x1="223.50" y1="282.25" x2="236.00" y2="284.75" stroke="#707070" stroke-width="2.3" stroke-linecap="round"/>
<line x1="223.50" y1="282.25" x2="236.00" y2="284.75" stroke="#a8a8a8" stroke-width="1.26" stroke-linecap="round"/>
<line x1="236.00" y1="284.75" x2="234.75" y2="273.50" stroke="#707070" stroke-width="2.3" stroke-linecap="round"/>
<line x1="236.00" y1="284.75" x2="234.75" y2="273.50" stroke="#a8a8a8" stroke-width="1.26" stroke-linecap="round"/>
<line x1="234.75" y1="273.50" x2="239.38" y2="269.25" stroke="#707070" stroke-width="1.8" stroke-linecap="butt"/>
<line x1="234.75" y1="273.50" x2="239.38" y2="269.25" stroke="#a8a8a8" stroke-width="0.99" stroke-linecap="butt"/>
<line x1="239.38" y1="269.25" x2="244.00" y2="265.00" stroke="#b86a10" stroke-width="1.8" stroke-linecap="butt"/>
<line x1="239.38" y1="269.25" x2="244.00" y2="265.00" stroke="#f0a030" stroke-width="0.99" stroke-linecap="butt"/>
<line x1="226.00" y1="201.00" x2="224.75" y2="198.25" stroke="#b86a10" stroke-width="2.0" stroke-linecap="butt"/>
<line x1="226.00" y1="201.00" x2="224.75" y2="198.25" stroke="#f0a030" stroke-width="1.10" stroke-linecap="butt"/>
<line x1="224.75" y1="198.25" x2="223.50" y2="195.50" stroke="#707070" stroke-width="2.0" stroke-linecap="butt"/>
<line x1="224.75" y1="198.25" x2="223.50" y2="195.50" stroke="#a8a8a8" stroke-width="1.10" stroke-linecap="butt"/>
<line x1="236.30" y1="218.60" x2="261.70" y2="219.20" stroke="#c0a010" stroke-width="1.8" stroke-linecap="round"/>
<line x1="236.30" y1="218.60" x2="261.70" y2="219.20" stroke="#f2d428" stroke-width="0.99" stroke-linecap="round"/>
<line x1="261.70" y1="219.20" x2="269.50" y2="240.80" stroke="#c0a010" stroke-width="1.8" stroke-linecap="round"/>
<line x1="261.70" y1="219.20" x2="269.50" y2="240.80" stroke="#f2d428" stroke-width="0.99" stroke-linecap="round"/>
<line x1="269.50" y1="240.80" x2="260.40" y2="261.60" stroke="#c0a010" stroke-width="1.8" stroke-linecap="round"/>
<line x1="269.50" y1="240.80" x2="260.40" y2="261.60" stroke="#f2d428" stroke-width="0.99" stroke-linecap="round"/>
<line x1="260.40" y1="261.60" x2="233.50" y2="260.00" stroke="#c0a010" stroke-width="1.8" stroke-linecap="round"/>
<line x1="260.40" y1="261.60" x2="233.50" y2="260.00" stroke="#f2d428" stroke-width="0.99" stroke-linecap="round"/>
<line x1="233.50" y1="260.00" x2="227.60" y2="238.50" stroke="#c0a010" stroke-width="1.8" stroke-linecap="round"/>
<line x1="233.50" y1="260.00" x2="227.60" y2="238.50" stroke="#f2d428" stroke-width="0.99" stroke-linecap="round"/>
<line x1="227.60" y1="238.50" x2="236.30" y2="218.60" stroke="#c0a010" stroke-width="1.8" stroke-linecap="round"/>
<line x1="227.60" y1="238.50" x2="236.30" y2="218.60" stroke="#f2d428" stroke-width="0.99" stroke-linecap="round"/>
<line x1="236.30" y1="218.60" x2="260.40" y2="261.60" stroke="#c0a010" stroke-width="1.5" stroke-linecap="round"/>
<line x1="236.30" y1="218.60" x2="260.40" y2="261.60" stroke="#f2d428" stroke-width="0.83" stroke-linecap="round"/>
<line x1="261.70" y1="219.20" x2="233.50" y2="260.00" stroke="#c0a010" stroke-width="1.5" stroke-linecap="round"/>
<line x1="261.70" y1="219.20" x2="233.50" y2="260.00" stroke="#f2d428" stroke-width="0.83" stroke-linecap="round"/>
<line x1="227.60" y1="238.50" x2="269.50" y2="240.80" stroke="#c0a010" stroke-width="1.5" stroke-linecap="round"/>
<line x1="227.60" y1="238.50" x2="269.50" y2="240.80" stroke="#f2d428" stroke-width="0.83" stroke-linecap="round"/>
<line x1="236.30" y1="218.60" x2="242.45" y2="223.05" stroke="#c0a010" stroke-width="1.6" stroke-linecap="butt"/>
<line x1="236.30" y1="218.60" x2="242.45" y2="223.05" stroke="#f2d428" stroke-width="0.88" stroke-linecap="butt"/>
<line x1="242.45" y1="223.05" x2="248.60" y2="227.50" stroke="#9a9a9a" stroke-width="1.6" stroke-linecap="butt"/>
<line x1="242.45" y1="223.05" x2="248.60" y2="227.50" stroke="#e2e2e2" stroke-width="0.88" stroke-linecap="butt"/>
<line x1="261.70" y1="219.20" x2="255.15" y2="223.35" stroke="#c0a010" stroke-width="1.6" stroke-linecap="butt"/>
<line x1="261.70" y1="219.20" x2="255.15" y2="223.35" stroke="#f2d428" stroke-width="0.88" stroke-linecap="butt"/>
<line x1="255.15" y1="223.35" x2="248.60" y2="227.50" stroke="#9a9a9a" stroke-width="1.6" stroke-linecap="butt"/>
<line x1="255.15" y1="223.35" x2="248.60" y2="227.50" stroke="#e2e2e2" stroke-width="0.88" stroke-linecap="butt"/>
<line x1="233.50" y1="260.00" x2="240.90" y2="256.00" stroke="#c0a010" stroke-width="1.6" stroke-linecap="butt"/>
<line x1="233.50" y1="260.00" x2="240.90" y2="256.00" stroke="#f2d428" stroke-width="0.88" stroke-linecap="butt"/>
<line x1="240.90" y1="256.00" x2="248.30" y2="252.00" stroke="#9a9a9a" stroke-width="1.6" stroke-linecap="butt"/>
<line x1="240.90" y1="256.00" x2="248.30" y2="252.00" stroke="#e2e2e2" stroke-width="0.88" stroke-linecap="butt"/>
<line x1="260.40" y1="261.60" x2="254.35" y2="256.80" stroke="#c0a010" stroke-width="1.6" stroke-linecap="butt"/>
<line x1="260.40" y1="261.60" x2="254.35" y2="256.80" stroke="#f2d428" stroke-width="0.88" stroke-linecap="butt"/>
<line x1="254.35" y1="256.80" x2="248.30" y2="252.00" stroke="#9a9a9a" stroke-width="1.6" stroke-linecap="butt"/>
<line x1="254.35" y1="256.80" x2="248.30" y2="252.00" stroke="#e2e2e2" stroke-width="0.88" stroke-linecap="butt"/>
<line x1="227.60" y1="238.50" x2="238.10" y2="233.00" stroke="#c0a010" stroke-width="1.5" stroke-linecap="butt"/>
<line x1="227.60" y1="238.50" x2="238.10" y2="233.00" stroke="#f2d428" stroke-width="0.83" stroke-linecap="butt"/>
<line x1="238.10" y1="233.00" x2="248.60" y2="227.50" stroke="#9a9a9a" stroke-width="1.5" stroke-linecap="butt"/>
<line x1="238.10" y1="233.00" x2="248.60" y2="227.50" stroke="#e2e2e2" stroke-width="0.83" stroke-linecap="butt"/>
<line x1="269.50" y1="240.80" x2="259.05" y2="234.15" stroke="#c0a010" stroke-width="1.5" stroke-linecap="butt"/>
<line x1="269.50" y1="240.80" x2="259.05" y2="234.15" stroke="#f2d428" stroke-width="0.83" stroke-linecap="butt"/>
<line x1="259.05" y1="234.15" x2="248.60" y2="227.50" stroke="#9a9a9a" stroke-width="1.5" stroke-linecap="butt"/>
<line x1="259.05" y1="234.15" x2="248.60" y2="227.50" stroke="#e2e2e2" stroke-width="0.83" stroke-linecap="butt"/>
<line x1="227.60" y1="238.50" x2="237.95" y2="245.25" stroke="#c0a010" stroke-width="1.5" stroke-linecap="butt"/>
<line x1="227.60" y1="238.50" x2="237.95" y2="245.25" stroke="#f2d428" stroke-width="0.83" stroke-linecap="butt"/>
<line x1="237.95" y1="245.25" x2="248.30" y2="252.00" stroke="#9a9a9a" stroke-width="1.5" stroke-linecap="butt"/>
<line x1="237.95" y1="245.25" x2="248.30" y2="252.00" stroke="#e2e2e2" stroke-width="0.83" stroke-linecap="butt"/>
<line x1="269.50" y1="240.80" x2="258.90" y2="246.40" stroke="#c0a010" stroke-width="1.5" stroke-linecap="butt"/>
<line x1="269.50" y1="240.80" x2="258.90" y2="246.40" stroke="#f2d428" stroke-width="0.83" stroke-linecap="butt"/>
<line x1="258.90" y1="246.40" x2="248.30" y2="252.00" stroke="#9a9a9a" stroke-width="1.5" stroke-linecap="butt"/>
<line x1="258.90" y1="246.40" x2="248.30" y2="252.00" stroke="#e2e2e2" stroke-width="0.83" stroke-linecap="butt"/>
<line x1="248.60" y1="227.50" x2="248.30" y2="252.00" stroke="#9a9a9a" stroke-width="1.7" stroke-linecap="round"/>
<line x1="248.60" y1="227.50" x2="248.30" y2="252.00" stroke="#e2e2e2" stroke-width="0.94" stroke-linecap="round"/>
<line x1="226.00" y1="201.00" x2="231.15" y2="209.80" stroke="#b86a10" stroke-width="1.9" stroke-linecap="butt"/>
<line x1="226.00" y1="201.00" x2="231.15" y2="209.80" stroke="#f0a030" stroke-width="1.04" stroke-linecap="butt"/>
<line x1="231.15" y1="209.80" x2="236.30" y2="218.60" stroke="#c0a010" stroke-width="1.9" stroke-linecap="butt"/>
<line x1="231.15" y1="209.80" x2="236.30" y2="218.60" stroke="#f2d428" stroke-width="1.04" stroke-linecap="butt"/>
<line x1="273.00" y1="202.00" x2="267.35" y2="210.60" stroke="#b86a10" stroke-width="1.9" stroke-linecap="butt"/>
<line x1="273.00" y1="202.00" x2="267.35" y2="210.60" stroke="#f0a030" stroke-width="1.04" stroke-linecap="butt"/>
<line x1="267.35" y1="210.60" x2="261.70" y2="219.20" stroke="#c0a010" stroke-width="1.9" stroke-linecap="butt"/>
<line x1="267.35" y1="210.60" x2="261.70" y2="219.20" stroke="#f2d428" stroke-width="1.04" stroke-linecap="butt"/>
<line x1="209.75" y1="236.00" x2="218.68" y2="237.25" stroke="#b86a10" stroke-width="1.9" stroke-linecap="butt"/>
<line x1="209.75" y1="236.00" x2="218.68" y2="237.25" stroke="#f0a030" stroke-width="1.04" stroke-linecap="butt"/>
<line x1="218.68" y1="237.25" x2="227.60" y2="238.50" stroke="#c0a010" stroke-width="1.9" stroke-linecap="butt"/>
<line x1="218.68" y1="237.25" x2="227.60" y2="238.50" stroke="#f2d428" stroke-width="1.04" stroke-linecap="butt"/>
<line x1="251.80" y1="217.30" x2="256.75" y2="218.25" stroke="#b86a10" stroke-width="1.9" stroke-linecap="butt"/>
<line x1="251.80" y1="217.30" x2="256.75" y2="218.25" stroke="#f0a030" stroke-width="1.04" stroke-linecap="butt"/>
<line x1="256.75" y1="218.25" x2="261.70" y2="219.20" stroke="#c0a010" stroke-width="1.9" stroke-linecap="butt"/>
<line x1="256.75" y1="218.25" x2="261.70" y2="219.20" stroke="#f2d428" stroke-width="1.04" stroke-linecap="butt"/>
<line x1="285.00" y1="243.50" x2="277.25" y2="242.15" stroke="#b86a10" stroke-width="1.9" stroke-linecap="butt"/>
<line x1="285.00" y1="243.50" x2="277.25" y2="242.15" stroke="#f0a030" stroke-width="1.04" stroke-linecap="butt"/>
<line x1="277.25" y1="242.15" x2="269.50" y2="240.80" stroke="#c0a010" stroke-width="1.9" stroke-linecap="butt"/>
<line x1="277.25" y1="242.15" x2="269.50" y2="240.80" stroke="#f2d428" stroke-width="1.04" stroke-linecap="butt"/>
<line x1="222.25" y1="276.00" x2="227.88" y2="268.00" stroke="#b86a10" stroke-width="1.9" stroke-linecap="butt"/>
<line x1="222.25" y1="276.00" x2="227.88" y2="268.00" stroke="#f0a030" stroke-width="1.04" stroke-linecap="butt"/>
<line x1="227.88" y1="268.00" x2="233.50" y2="260.00" stroke="#c0a010" stroke-width="1.9" stroke-linecap="butt"/>
<line x1="227.88" y1="268.00" x2="233.50" y2="260.00" stroke="#f2d428" stroke-width="1.04" stroke-linecap="butt"/>
<line x1="269.75" y1="279.75" x2="265.07" y2="270.68" stroke="#b86a10" stroke-width="1.9" stroke-linecap="butt"/>
<line x1="269.75" y1="279.75" x2="265.07" y2="270.68" stroke="#f0a030" stroke-width="1.04" stroke-linecap="butt"/>
<line x1="265.07" y1="270.68" x2="260.40" y2="261.60" stroke="#c0a010" stroke-width="1.9" stroke-linecap="butt"/>
<line x1="265.07" y1="270.68" x2="260.40" y2="261.60" stroke="#f2d428" stroke-width="1.04" stroke-linecap="butt"/>
<line x1="208.80" y1="242.20" x2="227.60" y2="238.50" stroke="#707070" stroke-width="1.9" stroke-linecap="round"/>
<line x1="208.80" y1="242.20" x2="227.60" y2="238.50" stroke="#707070" stroke-width="1.04" stroke-linecap="round"/>
<line x1="287.25" y1="238.30" x2="269.50" y2="240.80" stroke="#707070" stroke-width="1.9" stroke-linecap="round"/>
<line x1="287.25" y1="238.30" x2="269.50" y2="240.80" stroke="#707070" stroke-width="1.04" stroke-linecap="round"/>
<line x1="244.50" y1="214.80" x2="246.55" y2="221.15" stroke="#58a828" stroke-width="1.9" stroke-linecap="butt"/>
<line x1="244.50" y1="214.80" x2="246.55" y2="221.15" stroke="#90e858" stroke-width="1.04" stroke-linecap="butt"/>
<line x1="246.55" y1="221.15" x2="248.60" y2="227.50" stroke="#9a9a9a" stroke-width="1.9" stroke-linecap="butt"/>
<line x1="246.55" y1="221.15" x2="248.60" y2="227.50" stroke="#e2e2e2" stroke-width="1.04" stroke-linecap="butt"/>
<line x1="247.50" y1="262.00" x2="247.90" y2="257.00" stroke="#58a828" stroke-width="1.9" stroke-linecap="butt"/>
<line x1="247.50" y1="262.00" x2="247.90" y2="257.00" stroke="#90e858" stroke-width="1.04" stroke-linecap="butt"/>
<line x1="247.90" y1="257.00" x2="248.30" y2="252.00" stroke="#9a9a9a" stroke-width="1.9" stroke-linecap="butt"/>
<line x1="247.90" y1="257.00" x2="248.30" y2="252.00" stroke="#e2e2e2" stroke-width="1.04" stroke-linecap="butt"/>
<circle cx="226" cy="201" r="3.7" fill="url(#dP)"/>
<circle cx="273" cy="202" r="3.7" fill="url(#dP)"/>
<circle cx="209.75" cy="236" r="3.7" fill="url(#dP)"/>
<circle cx="251.8" cy="217.3" r="3.7" fill="url(#dP)"/>
<circle cx="285" cy="243.5" r="3.7" fill="url(#dP)"/>
<circle cx="222.25" cy="276" r="3.7" fill="url(#dP)"/>
<circle cx="269.75" cy="279.75" r="3.7" fill="url(#dP)"/>
<circle cx="223.5" cy="195.5" r="3.75" fill="url(#dC)"/>
<circle cx="221" cy="206" r="3.75" fill="url(#dC)"/>
<circle cx="208.5" cy="211" r="3.75" fill="url(#dC)"/>
<circle cx="207" cy="222.5" r="3.75" fill="url(#dC)"/>
<circle cx="266" cy="189.5" r="3.75" fill="url(#dC)"/>
<circle cx="276" cy="195.5" r="3.75" fill="url(#dC)"/>
<circle cx="256" cy="197" r="3.75" fill="url(#dC)"/>
<circle cx="261.5" cy="205" r="3.75" fill="url(#dC)"/>
<circle cx="285.5" cy="258" r="3.75" fill="url(#dC)"/>
<circle cx="285.5" cy="267.25" r="3.75" fill="url(#dC)"/>
<circle cx="273.5" cy="273.5" r="3.75" fill="url(#dC)"/>
<circle cx="270.5" cy="283.5" r="3.75" fill="url(#dC)"/>
<circle cx="234.75" cy="273.5" r="3.75" fill="url(#dC)"/>
<circle cx="236" cy="284.75" r="3.75" fill="url(#dC)"/>
<circle cx="223.5" cy="282.25" r="3.75" fill="url(#dC)"/>
<circle cx="244.5" cy="214.8" r="3.4" fill="url(#dCl)"/>
<circle cx="208.8" cy="242.2" r="3.4" fill="url(#dCl)"/>
<circle cx="287.25" cy="238.3" r="3.4" fill="url(#dCl)"/>
<circle cx="247.5" cy="262" r="3.4" fill="url(#dCl)"/>
<circle cx="236.3" cy="218.6" r="3.2" fill="url(#dAu)"/>
<circle cx="261.7" cy="219.2" r="3.2" fill="url(#dAu)"/>
<circle cx="227.6" cy="238.5" r="3.2" fill="url(#dAu)"/>
<circle cx="269.5" cy="240.8" r="3.2" fill="url(#dAu)"/>
<circle cx="233.5" cy="260.0" r="3.2" fill="url(#dAu)"/>
<circle cx="260.4" cy="261.6" r="3.2" fill="url(#dAu)"/>
<circle cx="248.6" cy="227.5" r="3.2" fill="url(#dAg)"/>
<circle cx="248.3" cy="252.0" r="3.2" fill="url(#dAg)"/></g>
</svg></body></html>
